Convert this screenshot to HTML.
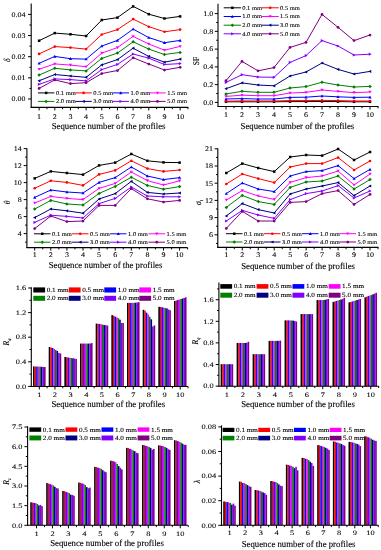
<!DOCTYPE html><html><head><meta charset="utf-8"><style>html,body{margin:0;padding:0;background:#fff;overflow:hidden}svg{display:block}</style></head><body>
<svg width="381" height="550" viewBox="0 0 381 550" font-family="Liberation Serif, serif" fill="#000" style="will-change:transform"><style>text{stroke:#000;stroke-width:0.1px;text-rendering:geometricPrecision}</style>
<rect width="381" height="550" fill="#fff"/>
<line x1="31.20" y1="3.60" x2="31.20" y2="107.90" stroke="#000" stroke-width="1.1"/>
<line x1="30.70" y1="107.40" x2="188.30" y2="107.40" stroke="#000" stroke-width="1.1"/>
<line x1="28.00" y1="99.00" x2="31.20" y2="99.00" stroke="#000" stroke-width="1"/>
<text x="0" y="0" font-size="8.0" text-anchor="end"  transform="translate(25.60,101.32) scale(1.0,0.88)">0.00</text>
<line x1="28.00" y1="77.85" x2="31.20" y2="77.85" stroke="#000" stroke-width="1"/>
<text x="0" y="0" font-size="8.0" text-anchor="end"  transform="translate(25.60,80.17) scale(1.0,0.88)">0.01</text>
<line x1="28.00" y1="56.70" x2="31.20" y2="56.70" stroke="#000" stroke-width="1"/>
<text x="0" y="0" font-size="8.0" text-anchor="end"  transform="translate(25.60,59.02) scale(1.0,0.88)">0.02</text>
<line x1="28.00" y1="35.55" x2="31.20" y2="35.55" stroke="#000" stroke-width="1"/>
<text x="0" y="0" font-size="8.0" text-anchor="end"  transform="translate(25.60,37.87) scale(1.0,0.88)">0.03</text>
<line x1="28.00" y1="14.40" x2="31.20" y2="14.40" stroke="#000" stroke-width="1"/>
<text x="0" y="0" font-size="8.0" text-anchor="end"  transform="translate(25.60,16.72) scale(1.0,0.88)">0.04</text>
<line x1="29.40" y1="88.42" x2="31.20" y2="88.42" stroke="#000" stroke-width="1"/>
<line x1="29.40" y1="67.28" x2="31.20" y2="67.28" stroke="#000" stroke-width="1"/>
<line x1="29.40" y1="46.12" x2="31.20" y2="46.12" stroke="#000" stroke-width="1"/>
<line x1="29.40" y1="24.98" x2="31.20" y2="24.98" stroke="#000" stroke-width="1"/>
<line x1="39.10" y1="107.40" x2="39.10" y2="110.40" stroke="#000" stroke-width="1"/>
<line x1="46.94" y1="107.40" x2="46.94" y2="109.20" stroke="#000" stroke-width="1"/>
<text x="0" y="0" font-size="8.0" text-anchor="middle"  transform="translate(39.10,118.52) scale(1.0,0.88)">1</text>
<line x1="54.77" y1="107.40" x2="54.77" y2="110.40" stroke="#000" stroke-width="1"/>
<line x1="62.61" y1="107.40" x2="62.61" y2="109.20" stroke="#000" stroke-width="1"/>
<text x="0" y="0" font-size="8.0" text-anchor="middle"  transform="translate(54.77,118.52) scale(1.0,0.88)">2</text>
<line x1="70.44" y1="107.40" x2="70.44" y2="110.40" stroke="#000" stroke-width="1"/>
<line x1="78.27" y1="107.40" x2="78.27" y2="109.20" stroke="#000" stroke-width="1"/>
<text x="0" y="0" font-size="8.0" text-anchor="middle"  transform="translate(70.44,118.52) scale(1.0,0.88)">3</text>
<line x1="86.11" y1="107.40" x2="86.11" y2="110.40" stroke="#000" stroke-width="1"/>
<line x1="93.94" y1="107.40" x2="93.94" y2="109.20" stroke="#000" stroke-width="1"/>
<text x="0" y="0" font-size="8.0" text-anchor="middle"  transform="translate(86.11,118.52) scale(1.0,0.88)">4</text>
<line x1="101.78" y1="107.40" x2="101.78" y2="110.40" stroke="#000" stroke-width="1"/>
<line x1="109.61" y1="107.40" x2="109.61" y2="109.20" stroke="#000" stroke-width="1"/>
<text x="0" y="0" font-size="8.0" text-anchor="middle"  transform="translate(101.78,118.52) scale(1.0,0.88)">5</text>
<line x1="117.45" y1="107.40" x2="117.45" y2="110.40" stroke="#000" stroke-width="1"/>
<line x1="125.28" y1="107.40" x2="125.28" y2="109.20" stroke="#000" stroke-width="1"/>
<text x="0" y="0" font-size="8.0" text-anchor="middle"  transform="translate(117.45,118.52) scale(1.0,0.88)">6</text>
<line x1="133.12" y1="107.40" x2="133.12" y2="110.40" stroke="#000" stroke-width="1"/>
<line x1="140.96" y1="107.40" x2="140.96" y2="109.20" stroke="#000" stroke-width="1"/>
<text x="0" y="0" font-size="8.0" text-anchor="middle"  transform="translate(133.12,118.52) scale(1.0,0.88)">7</text>
<line x1="148.79" y1="107.40" x2="148.79" y2="110.40" stroke="#000" stroke-width="1"/>
<line x1="156.62" y1="107.40" x2="156.62" y2="109.20" stroke="#000" stroke-width="1"/>
<text x="0" y="0" font-size="8.0" text-anchor="middle"  transform="translate(148.79,118.52) scale(1.0,0.88)">8</text>
<line x1="164.46" y1="107.40" x2="164.46" y2="110.40" stroke="#000" stroke-width="1"/>
<line x1="172.30" y1="107.40" x2="172.30" y2="109.20" stroke="#000" stroke-width="1"/>
<text x="0" y="0" font-size="8.0" text-anchor="middle"  transform="translate(164.46,118.52) scale(1.0,0.88)">9</text>
<line x1="180.13" y1="107.40" x2="180.13" y2="110.40" stroke="#000" stroke-width="1"/>
<line x1="187.97" y1="107.40" x2="187.97" y2="109.20" stroke="#000" stroke-width="1"/>
<text x="0" y="0" font-size="8.0" text-anchor="middle"  transform="translate(180.13,118.52) scale(1.0,0.88)">10</text>
<text x="0" y="0" font-size="8.75" text-anchor="middle" transform="translate(108.60,128.65) scale(1,1.04)">Sequence number of the profiles</text>
<text x="0" y="0" font-size="9" text-anchor="middle" font-style="italic" transform="translate(10.00,60.30) rotate(-90) scale(0.85,1)">δ</text>
<polyline points="39.10,40.70 54.77,33.10 70.44,34.30 86.11,36.00 101.78,20.00 117.45,17.60 133.12,6.40 148.79,14.20 164.46,18.50 180.13,16.40" fill="none" stroke="#000000" stroke-width="1"/>
<rect x="37.85" y="39.45" width="2.5" height="2.5" fill="#000000"/>
<rect x="53.52" y="31.85" width="2.5" height="2.5" fill="#000000"/>
<rect x="69.19" y="33.05" width="2.5" height="2.5" fill="#000000"/>
<rect x="84.86" y="34.75" width="2.5" height="2.5" fill="#000000"/>
<rect x="100.53" y="18.75" width="2.5" height="2.5" fill="#000000"/>
<rect x="116.20" y="16.35" width="2.5" height="2.5" fill="#000000"/>
<rect x="131.87" y="5.15" width="2.5" height="2.5" fill="#000000"/>
<rect x="147.54" y="12.95" width="2.5" height="2.5" fill="#000000"/>
<rect x="163.21" y="17.25" width="2.5" height="2.5" fill="#000000"/>
<rect x="178.88" y="15.15" width="2.5" height="2.5" fill="#000000"/>
<polyline points="39.10,53.90 54.77,46.60 70.44,47.60 86.11,49.10 101.78,34.50 117.45,29.60 133.12,19.10 148.79,26.70 164.46,31.80 180.13,29.60" fill="none" stroke="#ff0000" stroke-width="1"/>
<circle cx="39.10" cy="53.90" r="1.3125" fill="#ff0000"/>
<circle cx="54.77" cy="46.60" r="1.3125" fill="#ff0000"/>
<circle cx="70.44" cy="47.60" r="1.3125" fill="#ff0000"/>
<circle cx="86.11" cy="49.10" r="1.3125" fill="#ff0000"/>
<circle cx="101.78" cy="34.50" r="1.3125" fill="#ff0000"/>
<circle cx="117.45" cy="29.60" r="1.3125" fill="#ff0000"/>
<circle cx="133.12" cy="19.10" r="1.3125" fill="#ff0000"/>
<circle cx="148.79" cy="26.70" r="1.3125" fill="#ff0000"/>
<circle cx="164.46" cy="31.80" r="1.3125" fill="#ff0000"/>
<circle cx="180.13" cy="29.60" r="1.3125" fill="#ff0000"/>
<polyline points="39.10,63.30 54.77,56.40 70.44,58.70 86.11,59.10 101.78,46.00 117.45,40.40 133.12,29.10 148.79,37.60 164.46,42.70 180.13,40.40" fill="none" stroke="#0000ff" stroke-width="1"/>
<path d="M39.10,61.67L40.73,64.55L37.48,64.55Z" fill="#0000ff"/>
<path d="M54.77,54.77L56.40,57.65L53.15,57.65Z" fill="#0000ff"/>
<path d="M70.44,57.08L72.06,59.95L68.81,59.95Z" fill="#0000ff"/>
<path d="M86.11,57.48L87.73,60.35L84.48,60.35Z" fill="#0000ff"/>
<path d="M101.78,44.38L103.41,47.25L100.16,47.25Z" fill="#0000ff"/>
<path d="M117.45,38.77L119.07,41.65L115.82,41.65Z" fill="#0000ff"/>
<path d="M133.12,27.48L134.75,30.35L131.50,30.35Z" fill="#0000ff"/>
<path d="M148.79,35.98L150.41,38.85L147.16,38.85Z" fill="#0000ff"/>
<path d="M164.46,41.08L166.09,43.95L162.84,43.95Z" fill="#0000ff"/>
<path d="M180.13,38.77L181.75,41.65L178.50,41.65Z" fill="#0000ff"/>
<polyline points="39.10,69.20 54.77,63.90 70.44,65.10 86.11,66.70 101.78,53.10 117.45,47.60 133.12,36.40 148.79,44.00 164.46,50.20 180.13,46.40" fill="none" stroke="#ff00ff" stroke-width="1"/>
<path d="M39.10,70.83L40.73,67.95L37.48,67.95Z" fill="#ff00ff"/>
<path d="M54.77,65.53L56.40,62.65L53.15,62.65Z" fill="#ff00ff"/>
<path d="M70.44,66.72L72.06,63.85L68.81,63.85Z" fill="#ff00ff"/>
<path d="M86.11,68.33L87.73,65.45L84.48,65.45Z" fill="#ff00ff"/>
<path d="M101.78,54.73L103.41,51.85L100.16,51.85Z" fill="#ff00ff"/>
<path d="M117.45,49.23L119.07,46.35L115.82,46.35Z" fill="#ff00ff"/>
<path d="M133.12,38.02L134.75,35.15L131.50,35.15Z" fill="#ff00ff"/>
<path d="M148.79,45.62L150.41,42.75L147.16,42.75Z" fill="#ff00ff"/>
<path d="M164.46,51.83L166.09,48.95L162.84,48.95Z" fill="#ff00ff"/>
<path d="M180.13,48.02L181.75,45.15L178.50,45.15Z" fill="#ff00ff"/>
<polyline points="39.10,75.00 54.77,68.30 70.44,69.90 86.11,70.90 101.78,58.40 117.45,53.10 133.12,41.80 148.79,49.10 164.46,54.50 180.13,52.40" fill="none" stroke="#008000" stroke-width="1"/>
<path d="M39.10,73.25L40.85,75.00L39.10,76.75L37.35,75.00Z" fill="#008000"/>
<path d="M54.77,66.55L56.52,68.30L54.77,70.05L53.02,68.30Z" fill="#008000"/>
<path d="M70.44,68.15L72.19,69.90L70.44,71.65L68.69,69.90Z" fill="#008000"/>
<path d="M86.11,69.15L87.86,70.90L86.11,72.65L84.36,70.90Z" fill="#008000"/>
<path d="M101.78,56.65L103.53,58.40L101.78,60.15L100.03,58.40Z" fill="#008000"/>
<path d="M117.45,51.35L119.20,53.10L117.45,54.85L115.70,53.10Z" fill="#008000"/>
<path d="M133.12,40.05L134.87,41.80L133.12,43.55L131.37,41.80Z" fill="#008000"/>
<path d="M148.79,47.35L150.54,49.10L148.79,50.85L147.04,49.10Z" fill="#008000"/>
<path d="M164.46,52.75L166.21,54.50L164.46,56.25L162.71,54.50Z" fill="#008000"/>
<path d="M180.13,50.65L181.88,52.40L180.13,54.15L178.38,52.40Z" fill="#008000"/>
<polyline points="39.10,80.80 54.77,74.50 70.44,76.00 86.11,77.30 101.78,64.90 117.45,59.60 133.12,48.20 148.79,56.40 164.46,62.20 180.13,59.10" fill="none" stroke="#000080" stroke-width="1"/>
<path d="M37.48,80.80L40.35,79.17L40.35,82.42Z" fill="#000080"/>
<path d="M53.15,74.50L56.02,72.88L56.02,76.12Z" fill="#000080"/>
<path d="M68.81,76.00L71.69,74.38L71.69,77.62Z" fill="#000080"/>
<path d="M84.48,77.30L87.36,75.67L87.36,78.92Z" fill="#000080"/>
<path d="M100.16,64.90L103.03,63.28L103.03,66.53Z" fill="#000080"/>
<path d="M115.82,59.60L118.70,57.98L118.70,61.23Z" fill="#000080"/>
<path d="M131.50,48.20L134.37,46.58L134.37,49.83Z" fill="#000080"/>
<path d="M147.16,56.40L150.04,54.77L150.04,58.02Z" fill="#000080"/>
<path d="M162.84,62.20L165.71,60.58L165.71,63.83Z" fill="#000080"/>
<path d="M178.50,59.10L181.38,57.48L181.38,60.73Z" fill="#000080"/>
<polyline points="39.10,84.30 54.77,78.90 70.44,79.60 86.11,80.90 101.78,69.60 117.45,64.40 133.12,54.00 148.79,58.20 164.46,64.50 180.13,63.60" fill="none" stroke="#8000ff" stroke-width="1"/>
<path d="M40.73,84.30L37.85,82.67L37.85,85.92Z" fill="#8000ff"/>
<path d="M56.40,78.90L53.52,77.28L53.52,80.53Z" fill="#8000ff"/>
<path d="M72.06,79.60L69.19,77.97L69.19,81.22Z" fill="#8000ff"/>
<path d="M87.73,80.90L84.86,79.28L84.86,82.53Z" fill="#8000ff"/>
<path d="M103.41,69.60L100.53,67.97L100.53,71.22Z" fill="#8000ff"/>
<path d="M119.07,64.40L116.20,62.78L116.20,66.03Z" fill="#8000ff"/>
<path d="M134.75,54.00L131.87,52.38L131.87,55.62Z" fill="#8000ff"/>
<path d="M150.41,58.20L147.54,56.58L147.54,59.83Z" fill="#8000ff"/>
<path d="M166.09,64.50L163.21,62.88L163.21,66.12Z" fill="#8000ff"/>
<path d="M181.75,63.60L178.88,61.98L178.88,65.22Z" fill="#8000ff"/>
<polyline points="39.10,88.40 54.77,79.90 70.44,83.60 86.11,82.70 101.78,73.50 117.45,70.50 133.12,57.80 148.79,64.00 164.46,70.00 180.13,67.30" fill="none" stroke="#800080" stroke-width="1"/>
<circle cx="39.10" cy="88.40" r="1.375" fill="#800080"/>
<circle cx="54.77" cy="79.90" r="1.375" fill="#800080"/>
<circle cx="70.44" cy="83.60" r="1.375" fill="#800080"/>
<circle cx="86.11" cy="82.70" r="1.375" fill="#800080"/>
<circle cx="101.78" cy="73.50" r="1.375" fill="#800080"/>
<circle cx="117.45" cy="70.50" r="1.375" fill="#800080"/>
<circle cx="133.12" cy="57.80" r="1.375" fill="#800080"/>
<circle cx="148.79" cy="64.00" r="1.375" fill="#800080"/>
<circle cx="164.46" cy="70.00" r="1.375" fill="#800080"/>
<circle cx="180.13" cy="67.30" r="1.375" fill="#800080"/>
<line x1="37.90" y1="92.90" x2="54.40" y2="92.90" stroke="#000000" stroke-width="1"/>
<rect x="44.90" y="91.65" width="2.5" height="2.5" fill="#000000"/>
<text x="0" y="0" font-size="6.5" text-anchor="start"  transform="translate(55.90,94.83) scale(1.0,0.9)">0.1 mm</text>
<line x1="75.30" y1="92.90" x2="91.80" y2="92.90" stroke="#ff0000" stroke-width="1"/>
<circle cx="83.55" cy="92.90" r="1.3125" fill="#ff0000"/>
<text x="0" y="0" font-size="6.5" text-anchor="start"  transform="translate(93.30,94.83) scale(1.0,0.9)">0.5 mm</text>
<line x1="112.50" y1="92.90" x2="129.00" y2="92.90" stroke="#0000ff" stroke-width="1"/>
<path d="M120.75,91.28L122.38,94.15L119.12,94.15Z" fill="#0000ff"/>
<text x="0" y="0" font-size="6.5" text-anchor="start"  transform="translate(130.50,94.83) scale(1.0,0.9)">1.0 mm</text>
<line x1="149.20" y1="92.90" x2="165.70" y2="92.90" stroke="#ff00ff" stroke-width="1"/>
<path d="M157.45,94.53L159.07,91.65L155.82,91.65Z" fill="#ff00ff"/>
<text x="0" y="0" font-size="6.5" text-anchor="start"  transform="translate(167.20,94.83) scale(1.0,0.9)">1.5 mm</text>
<line x1="37.90" y1="101.40" x2="54.40" y2="101.40" stroke="#008000" stroke-width="1"/>
<path d="M46.15,99.65L47.90,101.40L46.15,103.15L44.40,101.40Z" fill="#008000"/>
<text x="0" y="0" font-size="6.5" text-anchor="start"  transform="translate(55.90,103.33) scale(1.0,0.9)">2.0 mm</text>
<line x1="75.30" y1="101.40" x2="91.80" y2="101.40" stroke="#000080" stroke-width="1"/>
<path d="M81.92,101.40L84.80,99.78L84.80,103.03Z" fill="#000080"/>
<text x="0" y="0" font-size="6.5" text-anchor="start"  transform="translate(93.30,103.33) scale(1.0,0.9)">3.0 mm</text>
<line x1="112.50" y1="101.40" x2="129.00" y2="101.40" stroke="#8000ff" stroke-width="1"/>
<path d="M122.38,101.40L119.50,99.78L119.50,103.03Z" fill="#8000ff"/>
<text x="0" y="0" font-size="6.5" text-anchor="start"  transform="translate(130.50,103.33) scale(1.0,0.9)">4.0 mm</text>
<line x1="149.20" y1="101.40" x2="165.70" y2="101.40" stroke="#800080" stroke-width="1"/>
<circle cx="157.45" cy="101.40" r="1.375" fill="#800080"/>
<text x="0" y="0" font-size="6.5" text-anchor="start"  transform="translate(167.20,103.33) scale(1.0,0.9)">5.0 mm</text>
<line x1="218.00" y1="3.80" x2="218.00" y2="107.00" stroke="#000" stroke-width="1.1"/>
<line x1="217.50" y1="106.50" x2="378.50" y2="106.50" stroke="#000" stroke-width="1.1"/>
<line x1="214.80" y1="102.40" x2="218.00" y2="102.40" stroke="#000" stroke-width="1"/>
<text x="0" y="0" font-size="8.0" text-anchor="end"  transform="translate(213.20,104.72) scale(1.0,0.88)">0.0</text>
<line x1="214.80" y1="84.64" x2="218.00" y2="84.64" stroke="#000" stroke-width="1"/>
<text x="0" y="0" font-size="8.0" text-anchor="end"  transform="translate(213.20,86.96) scale(1.0,0.88)">0.2</text>
<line x1="214.80" y1="66.88" x2="218.00" y2="66.88" stroke="#000" stroke-width="1"/>
<text x="0" y="0" font-size="8.0" text-anchor="end"  transform="translate(213.20,69.20) scale(1.0,0.88)">0.4</text>
<line x1="214.80" y1="49.12" x2="218.00" y2="49.12" stroke="#000" stroke-width="1"/>
<text x="0" y="0" font-size="8.0" text-anchor="end"  transform="translate(213.20,51.44) scale(1.0,0.88)">0.6</text>
<line x1="214.80" y1="31.36" x2="218.00" y2="31.36" stroke="#000" stroke-width="1"/>
<text x="0" y="0" font-size="8.0" text-anchor="end"  transform="translate(213.20,33.68) scale(1.0,0.88)">0.8</text>
<line x1="214.80" y1="13.60" x2="218.00" y2="13.60" stroke="#000" stroke-width="1"/>
<text x="0" y="0" font-size="8.0" text-anchor="end"  transform="translate(213.20,15.92) scale(1.0,0.88)">1.0</text>
<line x1="216.20" y1="93.52" x2="218.00" y2="93.52" stroke="#000" stroke-width="1"/>
<line x1="216.20" y1="75.76" x2="218.00" y2="75.76" stroke="#000" stroke-width="1"/>
<line x1="216.20" y1="58.00" x2="218.00" y2="58.00" stroke="#000" stroke-width="1"/>
<line x1="216.20" y1="40.24" x2="218.00" y2="40.24" stroke="#000" stroke-width="1"/>
<line x1="216.20" y1="22.48" x2="218.00" y2="22.48" stroke="#000" stroke-width="1"/>
<line x1="226.00" y1="106.50" x2="226.00" y2="109.50" stroke="#000" stroke-width="1"/>
<line x1="234.00" y1="106.50" x2="234.00" y2="108.30" stroke="#000" stroke-width="1"/>
<text x="0" y="0" font-size="8.0" text-anchor="middle"  transform="translate(226.00,116.92) scale(1.0,0.88)">1</text>
<line x1="242.00" y1="106.50" x2="242.00" y2="109.50" stroke="#000" stroke-width="1"/>
<line x1="250.00" y1="106.50" x2="250.00" y2="108.30" stroke="#000" stroke-width="1"/>
<text x="0" y="0" font-size="8.0" text-anchor="middle"  transform="translate(242.00,116.92) scale(1.0,0.88)">2</text>
<line x1="258.00" y1="106.50" x2="258.00" y2="109.50" stroke="#000" stroke-width="1"/>
<line x1="266.00" y1="106.50" x2="266.00" y2="108.30" stroke="#000" stroke-width="1"/>
<text x="0" y="0" font-size="8.0" text-anchor="middle"  transform="translate(258.00,116.92) scale(1.0,0.88)">3</text>
<line x1="274.00" y1="106.50" x2="274.00" y2="109.50" stroke="#000" stroke-width="1"/>
<line x1="282.00" y1="106.50" x2="282.00" y2="108.30" stroke="#000" stroke-width="1"/>
<text x="0" y="0" font-size="8.0" text-anchor="middle"  transform="translate(274.00,116.92) scale(1.0,0.88)">4</text>
<line x1="290.00" y1="106.50" x2="290.00" y2="109.50" stroke="#000" stroke-width="1"/>
<line x1="298.00" y1="106.50" x2="298.00" y2="108.30" stroke="#000" stroke-width="1"/>
<text x="0" y="0" font-size="8.0" text-anchor="middle"  transform="translate(290.00,116.92) scale(1.0,0.88)">5</text>
<line x1="306.00" y1="106.50" x2="306.00" y2="109.50" stroke="#000" stroke-width="1"/>
<line x1="314.00" y1="106.50" x2="314.00" y2="108.30" stroke="#000" stroke-width="1"/>
<text x="0" y="0" font-size="8.0" text-anchor="middle"  transform="translate(306.00,116.92) scale(1.0,0.88)">6</text>
<line x1="322.00" y1="106.50" x2="322.00" y2="109.50" stroke="#000" stroke-width="1"/>
<line x1="330.00" y1="106.50" x2="330.00" y2="108.30" stroke="#000" stroke-width="1"/>
<text x="0" y="0" font-size="8.0" text-anchor="middle"  transform="translate(322.00,116.92) scale(1.0,0.88)">7</text>
<line x1="338.00" y1="106.50" x2="338.00" y2="109.50" stroke="#000" stroke-width="1"/>
<line x1="346.00" y1="106.50" x2="346.00" y2="108.30" stroke="#000" stroke-width="1"/>
<text x="0" y="0" font-size="8.0" text-anchor="middle"  transform="translate(338.00,116.92) scale(1.0,0.88)">8</text>
<line x1="354.00" y1="106.50" x2="354.00" y2="109.50" stroke="#000" stroke-width="1"/>
<line x1="362.00" y1="106.50" x2="362.00" y2="108.30" stroke="#000" stroke-width="1"/>
<text x="0" y="0" font-size="8.0" text-anchor="middle"  transform="translate(354.00,116.92) scale(1.0,0.88)">9</text>
<line x1="370.00" y1="106.50" x2="370.00" y2="109.50" stroke="#000" stroke-width="1"/>
<line x1="378.00" y1="106.50" x2="378.00" y2="108.30" stroke="#000" stroke-width="1"/>
<text x="0" y="0" font-size="8.0" text-anchor="middle"  transform="translate(370.00,116.92) scale(1.0,0.88)">10</text>
<text x="0" y="0" font-size="8.75" text-anchor="middle" transform="translate(297.40,129.05) scale(1,1.04)">Sequence number of the profiles</text>
<text x="0" y="0" font-size="9" text-anchor="middle"  transform="translate(199.00,60.90) rotate(-90) scale(0.85,1)">SF</text>
<polyline points="226.00,101.80 242.00,101.80 258.00,101.80 274.00,101.80 290.00,101.60 306.00,101.60 322.00,101.50 338.00,101.60 354.00,101.80 370.00,101.80" fill="none" stroke="#000000" stroke-width="1"/>
<rect x="224.75" y="100.55" width="2.5" height="2.5" fill="#000000"/>
<rect x="240.75" y="100.55" width="2.5" height="2.5" fill="#000000"/>
<rect x="256.75" y="100.55" width="2.5" height="2.5" fill="#000000"/>
<rect x="272.75" y="100.55" width="2.5" height="2.5" fill="#000000"/>
<rect x="288.75" y="100.35" width="2.5" height="2.5" fill="#000000"/>
<rect x="304.75" y="100.35" width="2.5" height="2.5" fill="#000000"/>
<rect x="320.75" y="100.25" width="2.5" height="2.5" fill="#000000"/>
<rect x="336.75" y="100.35" width="2.5" height="2.5" fill="#000000"/>
<rect x="352.75" y="100.55" width="2.5" height="2.5" fill="#000000"/>
<rect x="368.75" y="100.55" width="2.5" height="2.5" fill="#000000"/>
<polyline points="226.00,101.20 242.00,100.90 258.00,101.00 274.00,101.00 290.00,100.60 306.00,100.60 322.00,100.40 338.00,100.60 354.00,101.00 370.00,101.00" fill="none" stroke="#ff0000" stroke-width="1"/>
<circle cx="226.00" cy="101.20" r="1.3125" fill="#ff0000"/>
<circle cx="242.00" cy="100.90" r="1.3125" fill="#ff0000"/>
<circle cx="258.00" cy="101.00" r="1.3125" fill="#ff0000"/>
<circle cx="274.00" cy="101.00" r="1.3125" fill="#ff0000"/>
<circle cx="290.00" cy="100.60" r="1.3125" fill="#ff0000"/>
<circle cx="306.00" cy="100.60" r="1.3125" fill="#ff0000"/>
<circle cx="322.00" cy="100.40" r="1.3125" fill="#ff0000"/>
<circle cx="338.00" cy="100.60" r="1.3125" fill="#ff0000"/>
<circle cx="354.00" cy="101.00" r="1.3125" fill="#ff0000"/>
<circle cx="370.00" cy="101.00" r="1.3125" fill="#ff0000"/>
<polyline points="226.00,99.00 242.00,98.60 258.00,99.00 274.00,99.00 290.00,97.40 306.00,97.20 322.00,96.00 338.00,96.80 354.00,97.40 370.00,97.20" fill="none" stroke="#0000ff" stroke-width="1"/>
<path d="M226.00,97.38L227.62,100.25L224.38,100.25Z" fill="#0000ff"/>
<path d="M242.00,96.97L243.62,99.85L240.38,99.85Z" fill="#0000ff"/>
<path d="M258.00,97.38L259.62,100.25L256.38,100.25Z" fill="#0000ff"/>
<path d="M274.00,97.38L275.62,100.25L272.38,100.25Z" fill="#0000ff"/>
<path d="M290.00,95.78L291.62,98.65L288.38,98.65Z" fill="#0000ff"/>
<path d="M306.00,95.58L307.62,98.45L304.38,98.45Z" fill="#0000ff"/>
<path d="M322.00,94.38L323.62,97.25L320.38,97.25Z" fill="#0000ff"/>
<path d="M338.00,95.17L339.62,98.05L336.38,98.05Z" fill="#0000ff"/>
<path d="M354.00,95.78L355.62,98.65L352.38,98.65Z" fill="#0000ff"/>
<path d="M370.00,95.58L371.62,98.45L368.38,98.45Z" fill="#0000ff"/>
<polyline points="226.00,96.40 242.00,95.20 258.00,95.70 274.00,95.70 290.00,93.00 306.00,92.40 322.00,90.00 338.00,91.40 354.00,92.60 370.00,92.00" fill="none" stroke="#ff00ff" stroke-width="1"/>
<path d="M226.00,98.03L227.62,95.15L224.38,95.15Z" fill="#ff00ff"/>
<path d="M242.00,96.83L243.62,93.95L240.38,93.95Z" fill="#ff00ff"/>
<path d="M258.00,97.33L259.62,94.45L256.38,94.45Z" fill="#ff00ff"/>
<path d="M274.00,97.33L275.62,94.45L272.38,94.45Z" fill="#ff00ff"/>
<path d="M290.00,94.62L291.62,91.75L288.38,91.75Z" fill="#ff00ff"/>
<path d="M306.00,94.03L307.62,91.15L304.38,91.15Z" fill="#ff00ff"/>
<path d="M322.00,91.62L323.62,88.75L320.38,88.75Z" fill="#ff00ff"/>
<path d="M338.00,93.03L339.62,90.15L336.38,90.15Z" fill="#ff00ff"/>
<path d="M354.00,94.22L355.62,91.35L352.38,91.35Z" fill="#ff00ff"/>
<path d="M370.00,93.62L371.62,90.75L368.38,90.75Z" fill="#ff00ff"/>
<polyline points="226.00,94.00 242.00,91.30 258.00,92.30 274.00,92.30 290.00,88.00 306.00,86.60 322.00,82.20 338.00,85.00 354.00,87.00 370.00,86.40" fill="none" stroke="#008000" stroke-width="1"/>
<path d="M226.00,92.25L227.75,94.00L226.00,95.75L224.25,94.00Z" fill="#008000"/>
<path d="M242.00,89.55L243.75,91.30L242.00,93.05L240.25,91.30Z" fill="#008000"/>
<path d="M258.00,90.55L259.75,92.30L258.00,94.05L256.25,92.30Z" fill="#008000"/>
<path d="M274.00,90.55L275.75,92.30L274.00,94.05L272.25,92.30Z" fill="#008000"/>
<path d="M290.00,86.25L291.75,88.00L290.00,89.75L288.25,88.00Z" fill="#008000"/>
<path d="M306.00,84.85L307.75,86.60L306.00,88.35L304.25,86.60Z" fill="#008000"/>
<path d="M322.00,80.45L323.75,82.20L322.00,83.95L320.25,82.20Z" fill="#008000"/>
<path d="M338.00,83.25L339.75,85.00L338.00,86.75L336.25,85.00Z" fill="#008000"/>
<path d="M354.00,85.25L355.75,87.00L354.00,88.75L352.25,87.00Z" fill="#008000"/>
<path d="M370.00,84.65L371.75,86.40L370.00,88.15L368.25,86.40Z" fill="#008000"/>
<polyline points="226.00,88.70 242.00,82.90 258.00,85.00 274.00,85.80 290.00,76.00 306.00,72.00 322.00,63.00 338.00,69.40 354.00,74.00 370.00,71.40" fill="none" stroke="#000080" stroke-width="1"/>
<path d="M224.38,88.70L227.25,87.08L227.25,90.33Z" fill="#000080"/>
<path d="M240.38,82.90L243.25,81.28L243.25,84.53Z" fill="#000080"/>
<path d="M256.38,85.00L259.25,83.38L259.25,86.62Z" fill="#000080"/>
<path d="M272.38,85.80L275.25,84.17L275.25,87.42Z" fill="#000080"/>
<path d="M288.38,76.00L291.25,74.38L291.25,77.62Z" fill="#000080"/>
<path d="M304.38,72.00L307.25,70.38L307.25,73.62Z" fill="#000080"/>
<path d="M320.38,63.00L323.25,61.38L323.25,64.62Z" fill="#000080"/>
<path d="M336.38,69.40L339.25,67.78L339.25,71.03Z" fill="#000080"/>
<path d="M352.38,74.00L355.25,72.38L355.25,75.62Z" fill="#000080"/>
<path d="M368.38,71.40L371.25,69.78L371.25,73.03Z" fill="#000080"/>
<polyline points="226.00,82.40 242.00,74.70 258.00,77.00 274.00,77.30 290.00,62.40 306.00,55.60 322.00,40.60 338.00,46.00 354.00,55.00 370.00,54.20" fill="none" stroke="#8000ff" stroke-width="1"/>
<path d="M227.62,82.40L224.75,80.78L224.75,84.03Z" fill="#8000ff"/>
<path d="M243.62,74.70L240.75,73.08L240.75,76.33Z" fill="#8000ff"/>
<path d="M259.62,77.00L256.75,75.38L256.75,78.62Z" fill="#8000ff"/>
<path d="M275.62,77.30L272.75,75.67L272.75,78.92Z" fill="#8000ff"/>
<path d="M291.62,62.40L288.75,60.77L288.75,64.03Z" fill="#8000ff"/>
<path d="M307.62,55.60L304.75,53.98L304.75,57.23Z" fill="#8000ff"/>
<path d="M323.62,40.60L320.75,38.98L320.75,42.23Z" fill="#8000ff"/>
<path d="M339.62,46.00L336.75,44.38L336.75,47.62Z" fill="#8000ff"/>
<path d="M355.62,55.00L352.75,53.38L352.75,56.62Z" fill="#8000ff"/>
<path d="M371.62,54.20L368.75,52.58L368.75,55.83Z" fill="#8000ff"/>
<polyline points="226.00,80.70 242.00,61.40 258.00,70.80 274.00,67.60 290.00,47.40 306.00,42.40 322.00,14.40 338.00,27.30 354.00,40.60 370.00,35.00" fill="none" stroke="#800080" stroke-width="1"/>
<circle cx="226.00" cy="80.70" r="1.375" fill="#800080"/>
<circle cx="242.00" cy="61.40" r="1.375" fill="#800080"/>
<circle cx="258.00" cy="70.80" r="1.375" fill="#800080"/>
<circle cx="274.00" cy="67.60" r="1.375" fill="#800080"/>
<circle cx="290.00" cy="47.40" r="1.375" fill="#800080"/>
<circle cx="306.00" cy="42.40" r="1.375" fill="#800080"/>
<circle cx="322.00" cy="14.40" r="1.375" fill="#800080"/>
<circle cx="338.00" cy="27.30" r="1.375" fill="#800080"/>
<circle cx="354.00" cy="40.60" r="1.375" fill="#800080"/>
<circle cx="370.00" cy="35.00" r="1.375" fill="#800080"/>
<line x1="223.70" y1="7.80" x2="241.00" y2="7.80" stroke="#000000" stroke-width="1"/>
<rect x="231.10" y="6.55" width="2.5" height="2.5" fill="#000000"/>
<text x="0" y="0" font-size="6.5" text-anchor="start"  transform="translate(242.20,9.73) scale(1.0,0.9)">0.1 mm</text>
<line x1="261.50" y1="7.80" x2="278.80" y2="7.80" stroke="#ff0000" stroke-width="1"/>
<circle cx="270.15" cy="7.80" r="1.3125" fill="#ff0000"/>
<text x="0" y="0" font-size="6.5" text-anchor="start"  transform="translate(280.00,9.73) scale(1.0,0.9)">0.5 mm</text>
<line x1="223.70" y1="16.50" x2="241.00" y2="16.50" stroke="#0000ff" stroke-width="1"/>
<path d="M232.35,14.88L233.97,17.75L230.72,17.75Z" fill="#0000ff"/>
<text x="0" y="0" font-size="6.5" text-anchor="start"  transform="translate(242.20,18.43) scale(1.0,0.9)">1.0 mm</text>
<line x1="261.50" y1="16.50" x2="278.80" y2="16.50" stroke="#ff00ff" stroke-width="1"/>
<path d="M270.15,18.12L271.77,15.25L268.52,15.25Z" fill="#ff00ff"/>
<text x="0" y="0" font-size="6.5" text-anchor="start"  transform="translate(280.00,18.43) scale(1.0,0.9)">1.5 mm</text>
<line x1="223.70" y1="25.20" x2="241.00" y2="25.20" stroke="#008000" stroke-width="1"/>
<path d="M232.35,23.45L234.10,25.20L232.35,26.95L230.60,25.20Z" fill="#008000"/>
<text x="0" y="0" font-size="6.5" text-anchor="start"  transform="translate(242.20,27.13) scale(1.0,0.9)">2.0 mm</text>
<line x1="261.50" y1="25.20" x2="278.80" y2="25.20" stroke="#000080" stroke-width="1"/>
<path d="M268.52,25.20L271.40,23.57L271.40,26.82Z" fill="#000080"/>
<text x="0" y="0" font-size="6.5" text-anchor="start"  transform="translate(280.00,27.13) scale(1.0,0.9)">3.0 mm</text>
<line x1="223.70" y1="33.80" x2="241.00" y2="33.80" stroke="#8000ff" stroke-width="1"/>
<path d="M233.97,33.80L231.10,32.17L231.10,35.42Z" fill="#8000ff"/>
<text x="0" y="0" font-size="6.5" text-anchor="start"  transform="translate(242.20,35.73) scale(1.0,0.9)">4.0 mm</text>
<line x1="261.50" y1="33.80" x2="278.80" y2="33.80" stroke="#800080" stroke-width="1"/>
<circle cx="270.15" cy="33.80" r="1.375" fill="#800080"/>
<text x="0" y="0" font-size="6.5" text-anchor="start"  transform="translate(280.00,35.73) scale(1.0,0.9)">5.0 mm</text>
<line x1="26.90" y1="148.20" x2="26.90" y2="248.10" stroke="#000" stroke-width="1.1"/>
<line x1="26.40" y1="247.60" x2="187.60" y2="247.60" stroke="#000" stroke-width="1.1"/>
<line x1="23.70" y1="233.60" x2="26.90" y2="233.60" stroke="#000" stroke-width="1"/>
<text x="0" y="0" font-size="8.0" text-anchor="end"  transform="translate(21.70,235.92) scale(1.0,0.88)">4</text>
<line x1="23.70" y1="216.60" x2="26.90" y2="216.60" stroke="#000" stroke-width="1"/>
<text x="0" y="0" font-size="8.0" text-anchor="end"  transform="translate(21.70,218.92) scale(1.0,0.88)">6</text>
<line x1="23.70" y1="199.60" x2="26.90" y2="199.60" stroke="#000" stroke-width="1"/>
<text x="0" y="0" font-size="8.0" text-anchor="end"  transform="translate(21.70,201.92) scale(1.0,0.88)">8</text>
<line x1="23.70" y1="182.60" x2="26.90" y2="182.60" stroke="#000" stroke-width="1"/>
<text x="0" y="0" font-size="8.0" text-anchor="end"  transform="translate(21.70,184.92) scale(1.0,0.88)">10</text>
<line x1="23.70" y1="165.60" x2="26.90" y2="165.60" stroke="#000" stroke-width="1"/>
<text x="0" y="0" font-size="8.0" text-anchor="end"  transform="translate(21.70,167.92) scale(1.0,0.88)">12</text>
<line x1="23.70" y1="148.60" x2="26.90" y2="148.60" stroke="#000" stroke-width="1"/>
<text x="0" y="0" font-size="8.0" text-anchor="end"  transform="translate(21.70,150.92) scale(1.0,0.88)">14</text>
<line x1="25.10" y1="242.10" x2="26.90" y2="242.10" stroke="#000" stroke-width="1"/>
<line x1="25.10" y1="225.10" x2="26.90" y2="225.10" stroke="#000" stroke-width="1"/>
<line x1="25.10" y1="208.10" x2="26.90" y2="208.10" stroke="#000" stroke-width="1"/>
<line x1="25.10" y1="191.10" x2="26.90" y2="191.10" stroke="#000" stroke-width="1"/>
<line x1="25.10" y1="174.10" x2="26.90" y2="174.10" stroke="#000" stroke-width="1"/>
<line x1="25.10" y1="157.10" x2="26.90" y2="157.10" stroke="#000" stroke-width="1"/>
<line x1="34.70" y1="247.60" x2="34.70" y2="250.60" stroke="#000" stroke-width="1"/>
<line x1="42.75" y1="247.60" x2="42.75" y2="249.40" stroke="#000" stroke-width="1"/>
<text x="0" y="0" font-size="8.0" text-anchor="middle"  transform="translate(34.70,256.62) scale(1.0,0.88)">1</text>
<line x1="50.80" y1="247.60" x2="50.80" y2="250.60" stroke="#000" stroke-width="1"/>
<line x1="58.85" y1="247.60" x2="58.85" y2="249.40" stroke="#000" stroke-width="1"/>
<text x="0" y="0" font-size="8.0" text-anchor="middle"  transform="translate(50.80,256.62) scale(1.0,0.88)">2</text>
<line x1="66.90" y1="247.60" x2="66.90" y2="250.60" stroke="#000" stroke-width="1"/>
<line x1="74.95" y1="247.60" x2="74.95" y2="249.40" stroke="#000" stroke-width="1"/>
<text x="0" y="0" font-size="8.0" text-anchor="middle"  transform="translate(66.90,256.62) scale(1.0,0.88)">3</text>
<line x1="83.00" y1="247.60" x2="83.00" y2="250.60" stroke="#000" stroke-width="1"/>
<line x1="91.05" y1="247.60" x2="91.05" y2="249.40" stroke="#000" stroke-width="1"/>
<text x="0" y="0" font-size="8.0" text-anchor="middle"  transform="translate(83.00,256.62) scale(1.0,0.88)">4</text>
<line x1="99.10" y1="247.60" x2="99.10" y2="250.60" stroke="#000" stroke-width="1"/>
<line x1="107.15" y1="247.60" x2="107.15" y2="249.40" stroke="#000" stroke-width="1"/>
<text x="0" y="0" font-size="8.0" text-anchor="middle"  transform="translate(99.10,256.62) scale(1.0,0.88)">5</text>
<line x1="115.20" y1="247.60" x2="115.20" y2="250.60" stroke="#000" stroke-width="1"/>
<line x1="123.25" y1="247.60" x2="123.25" y2="249.40" stroke="#000" stroke-width="1"/>
<text x="0" y="0" font-size="8.0" text-anchor="middle"  transform="translate(115.20,256.62) scale(1.0,0.88)">6</text>
<line x1="131.30" y1="247.60" x2="131.30" y2="250.60" stroke="#000" stroke-width="1"/>
<line x1="139.35" y1="247.60" x2="139.35" y2="249.40" stroke="#000" stroke-width="1"/>
<text x="0" y="0" font-size="8.0" text-anchor="middle"  transform="translate(131.30,256.62) scale(1.0,0.88)">7</text>
<line x1="147.40" y1="247.60" x2="147.40" y2="250.60" stroke="#000" stroke-width="1"/>
<line x1="155.45" y1="247.60" x2="155.45" y2="249.40" stroke="#000" stroke-width="1"/>
<text x="0" y="0" font-size="8.0" text-anchor="middle"  transform="translate(147.40,256.62) scale(1.0,0.88)">8</text>
<line x1="163.50" y1="247.60" x2="163.50" y2="250.60" stroke="#000" stroke-width="1"/>
<line x1="171.55" y1="247.60" x2="171.55" y2="249.40" stroke="#000" stroke-width="1"/>
<text x="0" y="0" font-size="8.0" text-anchor="middle"  transform="translate(163.50,256.62) scale(1.0,0.88)">9</text>
<line x1="179.60" y1="247.60" x2="179.60" y2="250.60" stroke="#000" stroke-width="1"/>
<line x1="187.65" y1="247.60" x2="187.65" y2="249.40" stroke="#000" stroke-width="1"/>
<text x="0" y="0" font-size="8.0" text-anchor="middle"  transform="translate(179.60,256.62) scale(1.0,0.88)">10</text>
<text x="0" y="0" font-size="8.75" text-anchor="middle" transform="translate(105.50,267.85) scale(1,1.04)">Sequence number of the profiles</text>
<text x="0" y="0" font-size="9" text-anchor="middle" font-style="italic" transform="translate(10.00,202.30) rotate(-90) scale(0.85,1)">θ</text>
<polyline points="34.70,178.40 50.80,171.40 66.90,173.00 83.00,174.60 99.10,165.40 115.20,162.60 131.30,154.00 147.40,160.80 163.50,162.40 179.60,162.60" fill="none" stroke="#000000" stroke-width="1"/>
<rect x="33.45" y="177.15" width="2.5" height="2.5" fill="#000000"/>
<rect x="49.55" y="170.15" width="2.5" height="2.5" fill="#000000"/>
<rect x="65.65" y="171.75" width="2.5" height="2.5" fill="#000000"/>
<rect x="81.75" y="173.35" width="2.5" height="2.5" fill="#000000"/>
<rect x="97.85" y="164.15" width="2.5" height="2.5" fill="#000000"/>
<rect x="113.95" y="161.35" width="2.5" height="2.5" fill="#000000"/>
<rect x="130.05" y="152.75" width="2.5" height="2.5" fill="#000000"/>
<rect x="146.15" y="159.55" width="2.5" height="2.5" fill="#000000"/>
<rect x="162.25" y="161.15" width="2.5" height="2.5" fill="#000000"/>
<rect x="178.35" y="161.35" width="2.5" height="2.5" fill="#000000"/>
<polyline points="34.70,188.20 50.80,180.80 66.90,182.40 83.00,185.40 99.10,174.40 115.20,170.40 131.30,160.80 147.40,168.60 163.50,171.40 179.60,170.00" fill="none" stroke="#ff0000" stroke-width="1"/>
<circle cx="34.70" cy="188.20" r="1.3125" fill="#ff0000"/>
<circle cx="50.80" cy="180.80" r="1.3125" fill="#ff0000"/>
<circle cx="66.90" cy="182.40" r="1.3125" fill="#ff0000"/>
<circle cx="83.00" cy="185.40" r="1.3125" fill="#ff0000"/>
<circle cx="99.10" cy="174.40" r="1.3125" fill="#ff0000"/>
<circle cx="115.20" cy="170.40" r="1.3125" fill="#ff0000"/>
<circle cx="131.30" cy="160.80" r="1.3125" fill="#ff0000"/>
<circle cx="147.40" cy="168.60" r="1.3125" fill="#ff0000"/>
<circle cx="163.50" cy="171.40" r="1.3125" fill="#ff0000"/>
<circle cx="179.60" cy="170.00" r="1.3125" fill="#ff0000"/>
<polyline points="34.70,197.40 50.80,190.00 66.90,192.00 83.00,193.00 99.10,182.40 115.20,177.60 131.30,167.00 147.40,176.00 163.50,179.60 179.60,177.60" fill="none" stroke="#0000ff" stroke-width="1"/>
<path d="M34.70,195.78L36.33,198.65L33.08,198.65Z" fill="#0000ff"/>
<path d="M50.80,188.38L52.43,191.25L49.18,191.25Z" fill="#0000ff"/>
<path d="M66.90,190.38L68.53,193.25L65.28,193.25Z" fill="#0000ff"/>
<path d="M83.00,191.38L84.62,194.25L81.38,194.25Z" fill="#0000ff"/>
<path d="M99.10,180.78L100.73,183.65L97.48,183.65Z" fill="#0000ff"/>
<path d="M115.20,175.97L116.83,178.85L113.58,178.85Z" fill="#0000ff"/>
<path d="M131.30,165.38L132.93,168.25L129.68,168.25Z" fill="#0000ff"/>
<path d="M147.40,174.38L149.03,177.25L145.78,177.25Z" fill="#0000ff"/>
<path d="M163.50,177.97L165.12,180.85L161.88,180.85Z" fill="#0000ff"/>
<path d="M179.60,175.97L181.23,178.85L177.98,178.85Z" fill="#0000ff"/>
<polyline points="34.70,203.00 50.80,196.40 66.90,198.40 83.00,199.60 99.10,188.40 115.20,183.40 131.30,172.00 147.40,180.60 163.50,185.00 179.60,180.80" fill="none" stroke="#ff00ff" stroke-width="1"/>
<path d="M34.70,204.62L36.33,201.75L33.08,201.75Z" fill="#ff00ff"/>
<path d="M50.80,198.03L52.43,195.15L49.18,195.15Z" fill="#ff00ff"/>
<path d="M66.90,200.03L68.53,197.15L65.28,197.15Z" fill="#ff00ff"/>
<path d="M83.00,201.22L84.62,198.35L81.38,198.35Z" fill="#ff00ff"/>
<path d="M99.10,190.03L100.73,187.15L97.48,187.15Z" fill="#ff00ff"/>
<path d="M115.20,185.03L116.83,182.15L113.58,182.15Z" fill="#ff00ff"/>
<path d="M131.30,173.62L132.93,170.75L129.68,170.75Z" fill="#ff00ff"/>
<path d="M147.40,182.22L149.03,179.35L145.78,179.35Z" fill="#ff00ff"/>
<path d="M163.50,186.62L165.12,183.75L161.88,183.75Z" fill="#ff00ff"/>
<path d="M179.60,182.43L181.23,179.55L177.98,179.55Z" fill="#ff00ff"/>
<polyline points="34.70,209.00 50.80,200.40 66.90,204.00 83.00,205.00 99.10,193.40 115.20,186.40 131.30,177.20 147.40,185.40 163.50,189.20 179.60,186.60" fill="none" stroke="#008000" stroke-width="1"/>
<path d="M34.70,207.25L36.45,209.00L34.70,210.75L32.95,209.00Z" fill="#008000"/>
<path d="M50.80,198.65L52.55,200.40L50.80,202.15L49.05,200.40Z" fill="#008000"/>
<path d="M66.90,202.25L68.65,204.00L66.90,205.75L65.15,204.00Z" fill="#008000"/>
<path d="M83.00,203.25L84.75,205.00L83.00,206.75L81.25,205.00Z" fill="#008000"/>
<path d="M99.10,191.65L100.85,193.40L99.10,195.15L97.35,193.40Z" fill="#008000"/>
<path d="M115.20,184.65L116.95,186.40L115.20,188.15L113.45,186.40Z" fill="#008000"/>
<path d="M131.30,175.45L133.05,177.20L131.30,178.95L129.55,177.20Z" fill="#008000"/>
<path d="M147.40,183.65L149.15,185.40L147.40,187.15L145.65,185.40Z" fill="#008000"/>
<path d="M163.50,187.45L165.25,189.20L163.50,190.95L161.75,189.20Z" fill="#008000"/>
<path d="M179.60,184.85L181.35,186.60L179.60,188.35L177.85,186.60Z" fill="#008000"/>
<polyline points="34.70,217.60 50.80,209.00 66.90,210.80 83.00,213.20 99.10,199.00 115.20,193.60 131.30,181.40 147.40,192.40 163.50,194.00 179.60,193.00" fill="none" stroke="#000080" stroke-width="1"/>
<path d="M33.08,217.60L35.95,215.97L35.95,219.22Z" fill="#000080"/>
<path d="M49.18,209.00L52.05,207.38L52.05,210.62Z" fill="#000080"/>
<path d="M65.28,210.80L68.15,209.18L68.15,212.43Z" fill="#000080"/>
<path d="M81.38,213.20L84.25,211.57L84.25,214.82Z" fill="#000080"/>
<path d="M97.48,199.00L100.35,197.38L100.35,200.62Z" fill="#000080"/>
<path d="M113.58,193.60L116.45,191.97L116.45,195.22Z" fill="#000080"/>
<path d="M129.68,181.40L132.55,179.78L132.55,183.03Z" fill="#000080"/>
<path d="M145.78,192.40L148.65,190.78L148.65,194.03Z" fill="#000080"/>
<path d="M161.88,194.00L164.75,192.38L164.75,195.62Z" fill="#000080"/>
<path d="M177.98,193.00L180.85,191.38L180.85,194.62Z" fill="#000080"/>
<polyline points="34.70,222.40 50.80,215.20 66.90,216.40 83.00,218.00 99.10,203.60 115.20,198.40 131.30,187.00 147.40,196.00 163.50,196.80 179.60,196.80" fill="none" stroke="#8000ff" stroke-width="1"/>
<path d="M36.33,222.40L33.45,220.78L33.45,224.03Z" fill="#8000ff"/>
<path d="M52.43,215.20L49.55,213.57L49.55,216.82Z" fill="#8000ff"/>
<path d="M68.53,216.40L65.65,214.78L65.65,218.03Z" fill="#8000ff"/>
<path d="M84.62,218.00L81.75,216.38L81.75,219.62Z" fill="#8000ff"/>
<path d="M100.73,203.60L97.85,201.97L97.85,205.22Z" fill="#8000ff"/>
<path d="M116.83,198.40L113.95,196.78L113.95,200.03Z" fill="#8000ff"/>
<path d="M132.93,187.00L130.05,185.38L130.05,188.62Z" fill="#8000ff"/>
<path d="M149.03,196.00L146.15,194.38L146.15,197.62Z" fill="#8000ff"/>
<path d="M165.12,196.80L162.25,195.18L162.25,198.43Z" fill="#8000ff"/>
<path d="M181.23,196.80L178.35,195.18L178.35,198.43Z" fill="#8000ff"/>
<polyline points="34.70,228.60 50.80,216.00 66.90,221.60 83.00,221.00 99.10,205.40 115.20,205.40 131.30,188.60 147.40,198.80 163.50,202.00 179.60,200.40" fill="none" stroke="#800080" stroke-width="1"/>
<circle cx="34.70" cy="228.60" r="1.375" fill="#800080"/>
<circle cx="50.80" cy="216.00" r="1.375" fill="#800080"/>
<circle cx="66.90" cy="221.60" r="1.375" fill="#800080"/>
<circle cx="83.00" cy="221.00" r="1.375" fill="#800080"/>
<circle cx="99.10" cy="205.40" r="1.375" fill="#800080"/>
<circle cx="115.20" cy="205.40" r="1.375" fill="#800080"/>
<circle cx="131.30" cy="188.60" r="1.375" fill="#800080"/>
<circle cx="147.40" cy="198.80" r="1.375" fill="#800080"/>
<circle cx="163.50" cy="202.00" r="1.375" fill="#800080"/>
<circle cx="179.60" cy="200.40" r="1.375" fill="#800080"/>
<line x1="34.00" y1="233.80" x2="50.50" y2="233.80" stroke="#000000" stroke-width="1"/>
<rect x="41.00" y="232.55" width="2.5" height="2.5" fill="#000000"/>
<text x="0" y="0" font-size="6.5" text-anchor="start"  transform="translate(52.00,235.73) scale(1.0,0.9)">0.1 mm</text>
<line x1="72.00" y1="233.80" x2="88.50" y2="233.80" stroke="#ff0000" stroke-width="1"/>
<circle cx="80.25" cy="233.80" r="1.3125" fill="#ff0000"/>
<text x="0" y="0" font-size="6.5" text-anchor="start"  transform="translate(90.00,235.73) scale(1.0,0.9)">0.5 mm</text>
<line x1="110.00" y1="233.80" x2="126.50" y2="233.80" stroke="#0000ff" stroke-width="1"/>
<path d="M118.25,232.18L119.88,235.05L116.62,235.05Z" fill="#0000ff"/>
<text x="0" y="0" font-size="6.5" text-anchor="start"  transform="translate(128.00,235.73) scale(1.0,0.9)">1.0 mm</text>
<line x1="148.50" y1="233.80" x2="165.00" y2="233.80" stroke="#ff00ff" stroke-width="1"/>
<path d="M156.75,235.43L158.38,232.55L155.12,232.55Z" fill="#ff00ff"/>
<text x="0" y="0" font-size="6.5" text-anchor="start"  transform="translate(166.50,235.73) scale(1.0,0.9)">1.5 mm</text>
<line x1="34.00" y1="242.20" x2="50.50" y2="242.20" stroke="#008000" stroke-width="1"/>
<path d="M42.25,240.45L44.00,242.20L42.25,243.95L40.50,242.20Z" fill="#008000"/>
<text x="0" y="0" font-size="6.5" text-anchor="start"  transform="translate(52.00,244.13) scale(1.0,0.9)">2.0 mm</text>
<line x1="72.00" y1="242.20" x2="88.50" y2="242.20" stroke="#000080" stroke-width="1"/>
<path d="M78.62,242.20L81.50,240.57L81.50,243.82Z" fill="#000080"/>
<text x="0" y="0" font-size="6.5" text-anchor="start"  transform="translate(90.00,244.13) scale(1.0,0.9)">3.0 mm</text>
<line x1="110.00" y1="242.20" x2="126.50" y2="242.20" stroke="#8000ff" stroke-width="1"/>
<path d="M119.88,242.20L117.00,240.57L117.00,243.82Z" fill="#8000ff"/>
<text x="0" y="0" font-size="6.5" text-anchor="start"  transform="translate(128.00,244.13) scale(1.0,0.9)">4.0 mm</text>
<line x1="148.50" y1="242.20" x2="165.00" y2="242.20" stroke="#800080" stroke-width="1"/>
<circle cx="156.75" cy="242.20" r="1.375" fill="#800080"/>
<text x="0" y="0" font-size="6.5" text-anchor="start"  transform="translate(166.50,244.13) scale(1.0,0.9)">5.0 mm</text>
<line x1="217.80" y1="148.20" x2="217.80" y2="247.90" stroke="#000" stroke-width="1.1"/>
<line x1="217.30" y1="247.40" x2="378.50" y2="247.40" stroke="#000" stroke-width="1.1"/>
<line x1="214.60" y1="234.80" x2="217.80" y2="234.80" stroke="#000" stroke-width="1"/>
<text x="0" y="0" font-size="8.0" text-anchor="end"  transform="translate(213.00,237.12) scale(1.0,0.88)">6</text>
<line x1="214.60" y1="217.60" x2="217.80" y2="217.60" stroke="#000" stroke-width="1"/>
<text x="0" y="0" font-size="8.0" text-anchor="end"  transform="translate(213.00,219.92) scale(1.0,0.88)">9</text>
<line x1="214.60" y1="200.40" x2="217.80" y2="200.40" stroke="#000" stroke-width="1"/>
<text x="0" y="0" font-size="8.0" text-anchor="end"  transform="translate(213.00,202.72) scale(1.0,0.88)">12</text>
<line x1="214.60" y1="183.20" x2="217.80" y2="183.20" stroke="#000" stroke-width="1"/>
<text x="0" y="0" font-size="8.0" text-anchor="end"  transform="translate(213.00,185.52) scale(1.0,0.88)">15</text>
<line x1="214.60" y1="166.00" x2="217.80" y2="166.00" stroke="#000" stroke-width="1"/>
<text x="0" y="0" font-size="8.0" text-anchor="end"  transform="translate(213.00,168.32) scale(1.0,0.88)">18</text>
<line x1="214.60" y1="148.80" x2="217.80" y2="148.80" stroke="#000" stroke-width="1"/>
<text x="0" y="0" font-size="8.0" text-anchor="end"  transform="translate(213.00,151.12) scale(1.0,0.88)">21</text>
<line x1="216.00" y1="243.40" x2="217.80" y2="243.40" stroke="#000" stroke-width="1"/>
<line x1="216.00" y1="226.20" x2="217.80" y2="226.20" stroke="#000" stroke-width="1"/>
<line x1="216.00" y1="209.00" x2="217.80" y2="209.00" stroke="#000" stroke-width="1"/>
<line x1="216.00" y1="191.80" x2="217.80" y2="191.80" stroke="#000" stroke-width="1"/>
<line x1="216.00" y1="174.60" x2="217.80" y2="174.60" stroke="#000" stroke-width="1"/>
<line x1="216.00" y1="157.40" x2="217.80" y2="157.40" stroke="#000" stroke-width="1"/>
<line x1="226.30" y1="247.40" x2="226.30" y2="250.40" stroke="#000" stroke-width="1"/>
<line x1="234.29" y1="247.40" x2="234.29" y2="249.20" stroke="#000" stroke-width="1"/>
<text x="0" y="0" font-size="8.0" text-anchor="middle"  transform="translate(226.30,256.82) scale(1.0,0.88)">1</text>
<line x1="242.27" y1="247.40" x2="242.27" y2="250.40" stroke="#000" stroke-width="1"/>
<line x1="250.26" y1="247.40" x2="250.26" y2="249.20" stroke="#000" stroke-width="1"/>
<text x="0" y="0" font-size="8.0" text-anchor="middle"  transform="translate(242.27,256.82) scale(1.0,0.88)">2</text>
<line x1="258.24" y1="247.40" x2="258.24" y2="250.40" stroke="#000" stroke-width="1"/>
<line x1="266.23" y1="247.40" x2="266.23" y2="249.20" stroke="#000" stroke-width="1"/>
<text x="0" y="0" font-size="8.0" text-anchor="middle"  transform="translate(258.24,256.82) scale(1.0,0.88)">3</text>
<line x1="274.21" y1="247.40" x2="274.21" y2="250.40" stroke="#000" stroke-width="1"/>
<line x1="282.20" y1="247.40" x2="282.20" y2="249.20" stroke="#000" stroke-width="1"/>
<text x="0" y="0" font-size="8.0" text-anchor="middle"  transform="translate(274.21,256.82) scale(1.0,0.88)">4</text>
<line x1="290.18" y1="247.40" x2="290.18" y2="250.40" stroke="#000" stroke-width="1"/>
<line x1="298.17" y1="247.40" x2="298.17" y2="249.20" stroke="#000" stroke-width="1"/>
<text x="0" y="0" font-size="8.0" text-anchor="middle"  transform="translate(290.18,256.82) scale(1.0,0.88)">5</text>
<line x1="306.15" y1="247.40" x2="306.15" y2="250.40" stroke="#000" stroke-width="1"/>
<line x1="314.14" y1="247.40" x2="314.14" y2="249.20" stroke="#000" stroke-width="1"/>
<text x="0" y="0" font-size="8.0" text-anchor="middle"  transform="translate(306.15,256.82) scale(1.0,0.88)">6</text>
<line x1="322.12" y1="247.40" x2="322.12" y2="250.40" stroke="#000" stroke-width="1"/>
<line x1="330.11" y1="247.40" x2="330.11" y2="249.20" stroke="#000" stroke-width="1"/>
<text x="0" y="0" font-size="8.0" text-anchor="middle"  transform="translate(322.12,256.82) scale(1.0,0.88)">7</text>
<line x1="338.09" y1="247.40" x2="338.09" y2="250.40" stroke="#000" stroke-width="1"/>
<line x1="346.08" y1="247.40" x2="346.08" y2="249.20" stroke="#000" stroke-width="1"/>
<text x="0" y="0" font-size="8.0" text-anchor="middle"  transform="translate(338.09,256.82) scale(1.0,0.88)">8</text>
<line x1="354.06" y1="247.40" x2="354.06" y2="250.40" stroke="#000" stroke-width="1"/>
<line x1="362.05" y1="247.40" x2="362.05" y2="249.20" stroke="#000" stroke-width="1"/>
<text x="0" y="0" font-size="8.0" text-anchor="middle"  transform="translate(354.06,256.82) scale(1.0,0.88)">9</text>
<line x1="370.03" y1="247.40" x2="370.03" y2="250.40" stroke="#000" stroke-width="1"/>
<line x1="378.02" y1="247.40" x2="378.02" y2="249.20" stroke="#000" stroke-width="1"/>
<text x="0" y="0" font-size="8.0" text-anchor="middle"  transform="translate(370.03,256.82) scale(1.0,0.88)">10</text>
<text x="0" y="0" font-size="8.75" text-anchor="middle" transform="translate(298.10,269.05) scale(1,1.04)">Sequence number of the profiles</text>
<text x="0" y="0" font-size="9" text-anchor="middle" font-style="italic" transform="translate(201.00,202.50) rotate(-90) scale(0.85,1)">σ<tspan font-size="5" dy="2" font-style="normal">t</tspan></text>
<polyline points="226.30,173.00 242.27,163.60 258.24,168.00 274.21,171.60 290.18,157.00 306.15,155.00 322.12,155.60 338.09,149.00 354.06,160.00 370.03,152.00" fill="none" stroke="#000000" stroke-width="1"/>
<rect x="225.05" y="171.75" width="2.5" height="2.5" fill="#000000"/>
<rect x="241.02" y="162.35" width="2.5" height="2.5" fill="#000000"/>
<rect x="256.99" y="166.75" width="2.5" height="2.5" fill="#000000"/>
<rect x="272.96" y="170.35" width="2.5" height="2.5" fill="#000000"/>
<rect x="288.93" y="155.75" width="2.5" height="2.5" fill="#000000"/>
<rect x="304.90" y="153.75" width="2.5" height="2.5" fill="#000000"/>
<rect x="320.87" y="154.35" width="2.5" height="2.5" fill="#000000"/>
<rect x="336.84" y="147.75" width="2.5" height="2.5" fill="#000000"/>
<rect x="352.81" y="158.75" width="2.5" height="2.5" fill="#000000"/>
<rect x="368.78" y="150.75" width="2.5" height="2.5" fill="#000000"/>
<polyline points="226.30,184.00 242.27,174.00 258.24,178.60 274.21,182.60 290.18,167.00 306.15,163.60 322.12,163.60 338.09,157.60 354.06,170.00 370.03,161.00" fill="none" stroke="#ff0000" stroke-width="1"/>
<circle cx="226.30" cy="184.00" r="1.3125" fill="#ff0000"/>
<circle cx="242.27" cy="174.00" r="1.3125" fill="#ff0000"/>
<circle cx="258.24" cy="178.60" r="1.3125" fill="#ff0000"/>
<circle cx="274.21" cy="182.60" r="1.3125" fill="#ff0000"/>
<circle cx="290.18" cy="167.00" r="1.3125" fill="#ff0000"/>
<circle cx="306.15" cy="163.60" r="1.3125" fill="#ff0000"/>
<circle cx="322.12" cy="163.60" r="1.3125" fill="#ff0000"/>
<circle cx="338.09" cy="157.60" r="1.3125" fill="#ff0000"/>
<circle cx="354.06" cy="170.00" r="1.3125" fill="#ff0000"/>
<circle cx="370.03" cy="161.00" r="1.3125" fill="#ff0000"/>
<polyline points="226.30,193.60 242.27,183.00 258.24,189.00 274.21,191.60 290.18,176.00 306.15,171.60 322.12,170.60 338.09,165.60 354.06,178.60 370.03,169.40" fill="none" stroke="#0000ff" stroke-width="1"/>
<path d="M226.30,191.97L227.93,194.85L224.68,194.85Z" fill="#0000ff"/>
<path d="M242.27,181.38L243.90,184.25L240.65,184.25Z" fill="#0000ff"/>
<path d="M258.24,187.38L259.87,190.25L256.62,190.25Z" fill="#0000ff"/>
<path d="M274.21,189.97L275.84,192.85L272.59,192.85Z" fill="#0000ff"/>
<path d="M290.18,174.38L291.81,177.25L288.56,177.25Z" fill="#0000ff"/>
<path d="M306.15,169.97L307.78,172.85L304.53,172.85Z" fill="#0000ff"/>
<path d="M322.12,168.97L323.75,171.85L320.50,171.85Z" fill="#0000ff"/>
<path d="M338.09,163.97L339.72,166.85L336.47,166.85Z" fill="#0000ff"/>
<path d="M354.06,176.97L355.69,179.85L352.44,179.85Z" fill="#0000ff"/>
<path d="M370.03,167.78L371.66,170.65L368.41,170.65Z" fill="#0000ff"/>
<polyline points="226.30,200.00 242.27,190.60 258.24,196.00 274.21,199.40 290.18,182.40 306.15,177.60 322.12,176.00 338.09,171.00 354.06,185.00 370.03,174.00" fill="none" stroke="#ff00ff" stroke-width="1"/>
<path d="M226.30,201.62L227.93,198.75L224.68,198.75Z" fill="#ff00ff"/>
<path d="M242.27,192.22L243.90,189.35L240.65,189.35Z" fill="#ff00ff"/>
<path d="M258.24,197.62L259.87,194.75L256.62,194.75Z" fill="#ff00ff"/>
<path d="M274.21,201.03L275.84,198.15L272.59,198.15Z" fill="#ff00ff"/>
<path d="M290.18,184.03L291.81,181.15L288.56,181.15Z" fill="#ff00ff"/>
<path d="M306.15,179.22L307.78,176.35L304.53,176.35Z" fill="#ff00ff"/>
<path d="M322.12,177.62L323.75,174.75L320.50,174.75Z" fill="#ff00ff"/>
<path d="M338.09,172.62L339.72,169.75L336.47,169.75Z" fill="#ff00ff"/>
<path d="M354.06,186.62L355.69,183.75L352.44,183.75Z" fill="#ff00ff"/>
<path d="M370.03,175.62L371.66,172.75L368.41,172.75Z" fill="#ff00ff"/>
<polyline points="226.30,207.40 242.27,195.40 258.24,201.60 274.21,204.40 290.18,187.40 306.15,182.00 322.12,181.00 338.09,176.00 354.06,189.00 370.03,179.60" fill="none" stroke="#008000" stroke-width="1"/>
<path d="M226.30,205.65L228.05,207.40L226.30,209.15L224.55,207.40Z" fill="#008000"/>
<path d="M242.27,193.65L244.02,195.40L242.27,197.15L240.52,195.40Z" fill="#008000"/>
<path d="M258.24,199.85L259.99,201.60L258.24,203.35L256.49,201.60Z" fill="#008000"/>
<path d="M274.21,202.65L275.96,204.40L274.21,206.15L272.46,204.40Z" fill="#008000"/>
<path d="M290.18,185.65L291.93,187.40L290.18,189.15L288.43,187.40Z" fill="#008000"/>
<path d="M306.15,180.25L307.90,182.00L306.15,183.75L304.40,182.00Z" fill="#008000"/>
<path d="M322.12,179.25L323.87,181.00L322.12,182.75L320.37,181.00Z" fill="#008000"/>
<path d="M338.09,174.25L339.84,176.00L338.09,177.75L336.34,176.00Z" fill="#008000"/>
<path d="M354.06,187.25L355.81,189.00L354.06,190.75L352.31,189.00Z" fill="#008000"/>
<path d="M370.03,177.85L371.78,179.60L370.03,181.35L368.28,179.60Z" fill="#008000"/>
<polyline points="226.30,216.00 242.27,203.60 258.24,209.60 274.21,213.00 290.18,194.00 306.15,189.00 322.12,186.00 338.09,182.60 354.06,195.60 370.03,186.00" fill="none" stroke="#000080" stroke-width="1"/>
<path d="M224.68,216.00L227.55,214.38L227.55,217.62Z" fill="#000080"/>
<path d="M240.65,203.60L243.52,201.97L243.52,205.22Z" fill="#000080"/>
<path d="M256.62,209.60L259.49,207.97L259.49,211.22Z" fill="#000080"/>
<path d="M272.59,213.00L275.46,211.38L275.46,214.62Z" fill="#000080"/>
<path d="M288.56,194.00L291.43,192.38L291.43,195.62Z" fill="#000080"/>
<path d="M304.53,189.00L307.40,187.38L307.40,190.62Z" fill="#000080"/>
<path d="M320.50,186.00L323.37,184.38L323.37,187.62Z" fill="#000080"/>
<path d="M336.47,182.60L339.34,180.97L339.34,184.22Z" fill="#000080"/>
<path d="M352.44,195.60L355.31,193.97L355.31,197.22Z" fill="#000080"/>
<path d="M368.41,186.00L371.28,184.38L371.28,187.62Z" fill="#000080"/>
<polyline points="226.30,221.00 242.27,210.40 258.24,215.00 274.21,218.40 290.18,199.60 306.15,193.60 322.12,191.00 338.09,185.60 354.06,198.00 370.03,191.00" fill="none" stroke="#8000ff" stroke-width="1"/>
<path d="M227.93,221.00L225.05,219.38L225.05,222.62Z" fill="#8000ff"/>
<path d="M243.90,210.40L241.02,208.78L241.02,212.03Z" fill="#8000ff"/>
<path d="M259.87,215.00L256.99,213.38L256.99,216.62Z" fill="#8000ff"/>
<path d="M275.84,218.40L272.96,216.78L272.96,220.03Z" fill="#8000ff"/>
<path d="M291.81,199.60L288.93,197.97L288.93,201.22Z" fill="#8000ff"/>
<path d="M307.78,193.60L304.90,191.97L304.90,195.22Z" fill="#8000ff"/>
<path d="M323.75,191.00L320.87,189.38L320.87,192.62Z" fill="#8000ff"/>
<path d="M339.72,185.60L336.84,183.97L336.84,187.22Z" fill="#8000ff"/>
<path d="M355.69,198.00L352.81,196.38L352.81,199.62Z" fill="#8000ff"/>
<path d="M371.66,191.00L368.78,189.38L368.78,192.62Z" fill="#8000ff"/>
<polyline points="226.30,228.40 242.27,211.40 258.24,221.00 274.21,221.00 290.18,202.40 306.15,201.60 322.12,193.60 338.09,190.60 354.06,204.40 370.03,194.40" fill="none" stroke="#800080" stroke-width="1"/>
<circle cx="226.30" cy="228.40" r="1.375" fill="#800080"/>
<circle cx="242.27" cy="211.40" r="1.375" fill="#800080"/>
<circle cx="258.24" cy="221.00" r="1.375" fill="#800080"/>
<circle cx="274.21" cy="221.00" r="1.375" fill="#800080"/>
<circle cx="290.18" cy="202.40" r="1.375" fill="#800080"/>
<circle cx="306.15" cy="201.60" r="1.375" fill="#800080"/>
<circle cx="322.12" cy="193.60" r="1.375" fill="#800080"/>
<circle cx="338.09" cy="190.60" r="1.375" fill="#800080"/>
<circle cx="354.06" cy="204.40" r="1.375" fill="#800080"/>
<circle cx="370.03" cy="194.40" r="1.375" fill="#800080"/>
<line x1="226.00" y1="233.70" x2="242.50" y2="233.70" stroke="#000000" stroke-width="1"/>
<rect x="233.00" y="232.45" width="2.5" height="2.5" fill="#000000"/>
<text x="0" y="0" font-size="6.5" text-anchor="start"  transform="translate(244.00,235.63) scale(1.0,0.9)">0.1 mm</text>
<line x1="264.00" y1="233.70" x2="280.50" y2="233.70" stroke="#ff0000" stroke-width="1"/>
<circle cx="272.25" cy="233.70" r="1.3125" fill="#ff0000"/>
<text x="0" y="0" font-size="6.5" text-anchor="start"  transform="translate(282.00,235.63) scale(1.0,0.9)">0.5 mm</text>
<line x1="302.00" y1="233.70" x2="318.50" y2="233.70" stroke="#0000ff" stroke-width="1"/>
<path d="M310.25,232.07L311.88,234.95L308.62,234.95Z" fill="#0000ff"/>
<text x="0" y="0" font-size="6.5" text-anchor="start"  transform="translate(320.00,235.63) scale(1.0,0.9)">1.0 mm</text>
<line x1="339.50" y1="233.70" x2="356.00" y2="233.70" stroke="#ff00ff" stroke-width="1"/>
<path d="M347.75,235.32L349.38,232.45L346.12,232.45Z" fill="#ff00ff"/>
<text x="0" y="0" font-size="6.5" text-anchor="start"  transform="translate(357.50,235.63) scale(1.0,0.9)">1.5 mm</text>
<line x1="226.00" y1="242.00" x2="242.50" y2="242.00" stroke="#008000" stroke-width="1"/>
<path d="M234.25,240.25L236.00,242.00L234.25,243.75L232.50,242.00Z" fill="#008000"/>
<text x="0" y="0" font-size="6.5" text-anchor="start"  transform="translate(244.00,243.93) scale(1.0,0.9)">2.0 mm</text>
<line x1="264.00" y1="242.00" x2="280.50" y2="242.00" stroke="#000080" stroke-width="1"/>
<path d="M270.62,242.00L273.50,240.38L273.50,243.62Z" fill="#000080"/>
<text x="0" y="0" font-size="6.5" text-anchor="start"  transform="translate(282.00,243.93) scale(1.0,0.9)">3.0 mm</text>
<line x1="302.00" y1="242.00" x2="318.50" y2="242.00" stroke="#8000ff" stroke-width="1"/>
<path d="M311.88,242.00L309.00,240.38L309.00,243.62Z" fill="#8000ff"/>
<text x="0" y="0" font-size="6.5" text-anchor="start"  transform="translate(320.00,243.93) scale(1.0,0.9)">4.0 mm</text>
<line x1="339.50" y1="242.00" x2="356.00" y2="242.00" stroke="#800080" stroke-width="1"/>
<circle cx="347.75" cy="242.00" r="1.375" fill="#800080"/>
<text x="0" y="0" font-size="6.5" text-anchor="start"  transform="translate(357.50,243.93) scale(1.0,0.9)">5.0 mm</text>
<rect x="33.05" y="366.40" width="1.61" height="20.10" fill="#000000"/>
<rect x="34.61" y="366.50" width="1.61" height="20.00" fill="#ff0000"/>
<rect x="36.17" y="366.60" width="1.61" height="19.90" fill="#0000ff"/>
<rect x="37.74" y="366.60" width="1.61" height="19.90" fill="#ff00ff"/>
<rect x="39.30" y="366.70" width="1.61" height="19.80" fill="#008000"/>
<rect x="40.86" y="366.80" width="1.61" height="19.70" fill="#000080"/>
<rect x="42.42" y="366.90" width="1.61" height="19.60" fill="#8000ff"/>
<rect x="43.99" y="367.00" width="1.61" height="19.50" fill="#800080"/>
<rect x="48.71" y="347.00" width="1.61" height="39.50" fill="#000000"/>
<rect x="50.27" y="347.50" width="1.61" height="39.00" fill="#ff0000"/>
<rect x="51.83" y="348.00" width="1.61" height="38.50" fill="#0000ff"/>
<rect x="53.40" y="349.00" width="1.61" height="37.50" fill="#ff00ff"/>
<rect x="54.96" y="350.00" width="1.61" height="36.50" fill="#008000"/>
<rect x="56.52" y="351.00" width="1.61" height="35.50" fill="#000080"/>
<rect x="58.08" y="353.00" width="1.61" height="33.50" fill="#8000ff"/>
<rect x="59.65" y="353.50" width="1.61" height="33.00" fill="#800080"/>
<rect x="64.37" y="357.00" width="1.61" height="29.50" fill="#000000"/>
<rect x="65.93" y="357.30" width="1.61" height="29.20" fill="#ff0000"/>
<rect x="67.50" y="357.60" width="1.61" height="28.90" fill="#0000ff"/>
<rect x="69.06" y="357.80" width="1.61" height="28.70" fill="#ff00ff"/>
<rect x="70.62" y="358.00" width="1.61" height="28.50" fill="#008000"/>
<rect x="72.18" y="358.30" width="1.61" height="28.20" fill="#000080"/>
<rect x="73.75" y="358.60" width="1.61" height="27.90" fill="#8000ff"/>
<rect x="75.31" y="358.90" width="1.61" height="27.60" fill="#800080"/>
<rect x="80.03" y="343.60" width="1.61" height="42.90" fill="#000000"/>
<rect x="81.59" y="343.60" width="1.61" height="42.90" fill="#ff0000"/>
<rect x="83.16" y="343.60" width="1.61" height="42.90" fill="#0000ff"/>
<rect x="84.72" y="343.60" width="1.61" height="42.90" fill="#ff00ff"/>
<rect x="86.28" y="343.60" width="1.61" height="42.90" fill="#008000"/>
<rect x="87.84" y="343.60" width="1.61" height="42.90" fill="#000080"/>
<rect x="89.41" y="343.50" width="1.61" height="43.00" fill="#8000ff"/>
<rect x="90.97" y="343.10" width="1.61" height="43.40" fill="#800080"/>
<rect x="95.69" y="323.60" width="1.61" height="62.90" fill="#000000"/>
<rect x="97.25" y="323.80" width="1.61" height="62.70" fill="#ff0000"/>
<rect x="98.81" y="324.00" width="1.61" height="62.50" fill="#0000ff"/>
<rect x="100.38" y="324.30" width="1.61" height="62.20" fill="#ff00ff"/>
<rect x="101.94" y="324.60" width="1.61" height="61.90" fill="#008000"/>
<rect x="103.50" y="325.00" width="1.61" height="61.50" fill="#000080"/>
<rect x="105.06" y="325.30" width="1.61" height="61.20" fill="#8000ff"/>
<rect x="106.63" y="325.50" width="1.61" height="61.00" fill="#800080"/>
<rect x="111.35" y="315.10" width="1.61" height="71.40" fill="#000000"/>
<rect x="112.91" y="315.70" width="1.61" height="70.80" fill="#ff0000"/>
<rect x="114.47" y="316.70" width="1.61" height="69.80" fill="#0000ff"/>
<rect x="116.04" y="317.30" width="1.61" height="69.20" fill="#ff00ff"/>
<rect x="117.60" y="318.20" width="1.61" height="68.30" fill="#008000"/>
<rect x="119.16" y="319.70" width="1.61" height="66.80" fill="#000080"/>
<rect x="120.72" y="323.00" width="1.61" height="63.50" fill="#8000ff"/>
<rect x="122.29" y="323.00" width="1.61" height="63.50" fill="#800080"/>
<rect x="127.01" y="302.90" width="1.61" height="83.60" fill="#000000"/>
<rect x="128.57" y="302.90" width="1.61" height="83.60" fill="#ff0000"/>
<rect x="130.13" y="302.90" width="1.61" height="83.60" fill="#0000ff"/>
<rect x="131.70" y="302.90" width="1.61" height="83.60" fill="#ff00ff"/>
<rect x="133.26" y="302.80" width="1.61" height="83.70" fill="#008000"/>
<rect x="134.82" y="302.70" width="1.61" height="83.80" fill="#000080"/>
<rect x="136.38" y="302.50" width="1.61" height="84.00" fill="#8000ff"/>
<rect x="137.95" y="302.20" width="1.61" height="84.30" fill="#800080"/>
<rect x="142.67" y="309.80" width="1.61" height="76.70" fill="#000000"/>
<rect x="144.23" y="310.70" width="1.61" height="75.80" fill="#ff0000"/>
<rect x="145.80" y="312.70" width="1.61" height="73.80" fill="#0000ff"/>
<rect x="147.36" y="314.40" width="1.61" height="72.10" fill="#ff00ff"/>
<rect x="148.92" y="316.70" width="1.61" height="69.80" fill="#008000"/>
<rect x="150.48" y="319.30" width="1.61" height="67.20" fill="#000080"/>
<rect x="152.05" y="326.50" width="1.61" height="60.00" fill="#8000ff"/>
<rect x="153.61" y="325.40" width="1.61" height="61.10" fill="#800080"/>
<rect x="158.33" y="306.80" width="1.61" height="79.70" fill="#000000"/>
<rect x="159.89" y="307.00" width="1.61" height="79.50" fill="#ff0000"/>
<rect x="161.45" y="307.30" width="1.61" height="79.20" fill="#0000ff"/>
<rect x="163.02" y="307.60" width="1.61" height="78.90" fill="#ff00ff"/>
<rect x="164.58" y="308.00" width="1.61" height="78.50" fill="#008000"/>
<rect x="166.14" y="308.40" width="1.61" height="78.10" fill="#000080"/>
<rect x="167.70" y="309.50" width="1.61" height="77.00" fill="#8000ff"/>
<rect x="169.27" y="310.20" width="1.61" height="76.30" fill="#800080"/>
<rect x="173.99" y="301.00" width="1.61" height="85.50" fill="#000000"/>
<rect x="175.55" y="300.50" width="1.61" height="86.00" fill="#ff0000"/>
<rect x="177.12" y="300.00" width="1.61" height="86.50" fill="#0000ff"/>
<rect x="178.68" y="299.50" width="1.61" height="87.00" fill="#ff00ff"/>
<rect x="180.24" y="299.00" width="1.61" height="87.50" fill="#008000"/>
<rect x="181.80" y="298.50" width="1.61" height="88.00" fill="#000080"/>
<rect x="183.37" y="298.00" width="1.61" height="88.50" fill="#8000ff"/>
<rect x="184.93" y="297.30" width="1.61" height="89.20" fill="#800080"/>
<line x1="31.30" y1="287.30" x2="31.30" y2="387.00" stroke="#000" stroke-width="1.1"/>
<line x1="30.80" y1="386.50" x2="188.00" y2="386.50" stroke="#000" stroke-width="1.1"/>
<line x1="28.10" y1="386.40" x2="31.30" y2="386.40" stroke="#000" stroke-width="1"/>
<text x="0" y="0" font-size="8.4" text-anchor="end"  transform="translate(26.30,388.62) scale(1.0,0.8)">0.0</text>
<line x1="28.10" y1="361.80" x2="31.30" y2="361.80" stroke="#000" stroke-width="1"/>
<text x="0" y="0" font-size="8.4" text-anchor="end"  transform="translate(26.30,364.02) scale(1.0,0.8)">0.4</text>
<line x1="28.10" y1="337.20" x2="31.30" y2="337.20" stroke="#000" stroke-width="1"/>
<text x="0" y="0" font-size="8.4" text-anchor="end"  transform="translate(26.30,339.42) scale(1.0,0.8)">0.8</text>
<line x1="28.10" y1="312.60" x2="31.30" y2="312.60" stroke="#000" stroke-width="1"/>
<text x="0" y="0" font-size="8.4" text-anchor="end"  transform="translate(26.30,314.82) scale(1.0,0.8)">1.2</text>
<line x1="28.10" y1="288.00" x2="31.30" y2="288.00" stroke="#000" stroke-width="1"/>
<text x="0" y="0" font-size="8.4" text-anchor="end"  transform="translate(26.30,290.22) scale(1.0,0.8)">1.6</text>
<line x1="29.50" y1="374.10" x2="31.30" y2="374.10" stroke="#000" stroke-width="1"/>
<line x1="29.50" y1="349.50" x2="31.30" y2="349.50" stroke="#000" stroke-width="1"/>
<line x1="29.50" y1="324.90" x2="31.30" y2="324.90" stroke="#000" stroke-width="1"/>
<line x1="29.50" y1="300.30" x2="31.30" y2="300.30" stroke="#000" stroke-width="1"/>
<line x1="39.30" y1="386.50" x2="39.30" y2="389.50" stroke="#000" stroke-width="1"/>
<line x1="47.13" y1="386.50" x2="47.13" y2="388.30" stroke="#000" stroke-width="1"/>
<text x="0" y="0" font-size="8.4" text-anchor="middle"  transform="translate(39.30,397.22) scale(1.0,0.8)">1</text>
<line x1="54.96" y1="386.50" x2="54.96" y2="389.50" stroke="#000" stroke-width="1"/>
<line x1="62.79" y1="386.50" x2="62.79" y2="388.30" stroke="#000" stroke-width="1"/>
<text x="0" y="0" font-size="8.4" text-anchor="middle"  transform="translate(54.96,397.22) scale(1.0,0.8)">2</text>
<line x1="70.62" y1="386.50" x2="70.62" y2="389.50" stroke="#000" stroke-width="1"/>
<line x1="78.45" y1="386.50" x2="78.45" y2="388.30" stroke="#000" stroke-width="1"/>
<text x="0" y="0" font-size="8.4" text-anchor="middle"  transform="translate(70.62,397.22) scale(1.0,0.8)">3</text>
<line x1="86.28" y1="386.50" x2="86.28" y2="389.50" stroke="#000" stroke-width="1"/>
<line x1="94.11" y1="386.50" x2="94.11" y2="388.30" stroke="#000" stroke-width="1"/>
<text x="0" y="0" font-size="8.4" text-anchor="middle"  transform="translate(86.28,397.22) scale(1.0,0.8)">4</text>
<line x1="101.94" y1="386.50" x2="101.94" y2="389.50" stroke="#000" stroke-width="1"/>
<line x1="109.77" y1="386.50" x2="109.77" y2="388.30" stroke="#000" stroke-width="1"/>
<text x="0" y="0" font-size="8.4" text-anchor="middle"  transform="translate(101.94,397.22) scale(1.0,0.8)">5</text>
<line x1="117.60" y1="386.50" x2="117.60" y2="389.50" stroke="#000" stroke-width="1"/>
<line x1="125.43" y1="386.50" x2="125.43" y2="388.30" stroke="#000" stroke-width="1"/>
<text x="0" y="0" font-size="8.4" text-anchor="middle"  transform="translate(117.60,397.22) scale(1.0,0.8)">6</text>
<line x1="133.26" y1="386.50" x2="133.26" y2="389.50" stroke="#000" stroke-width="1"/>
<line x1="141.09" y1="386.50" x2="141.09" y2="388.30" stroke="#000" stroke-width="1"/>
<text x="0" y="0" font-size="8.4" text-anchor="middle"  transform="translate(133.26,397.22) scale(1.0,0.8)">7</text>
<line x1="148.92" y1="386.50" x2="148.92" y2="389.50" stroke="#000" stroke-width="1"/>
<line x1="156.75" y1="386.50" x2="156.75" y2="388.30" stroke="#000" stroke-width="1"/>
<text x="0" y="0" font-size="8.4" text-anchor="middle"  transform="translate(148.92,397.22) scale(1.0,0.8)">8</text>
<line x1="164.58" y1="386.50" x2="164.58" y2="389.50" stroke="#000" stroke-width="1"/>
<line x1="172.41" y1="386.50" x2="172.41" y2="388.30" stroke="#000" stroke-width="1"/>
<text x="0" y="0" font-size="8.4" text-anchor="middle"  transform="translate(164.58,397.22) scale(1.0,0.8)">9</text>
<line x1="180.24" y1="386.50" x2="180.24" y2="389.50" stroke="#000" stroke-width="1"/>
<line x1="188.07" y1="386.50" x2="188.07" y2="388.30" stroke="#000" stroke-width="1"/>
<text x="0" y="0" font-size="8.4" text-anchor="middle"  transform="translate(180.24,397.22) scale(1.0,0.8)">10</text>
<text x="0" y="0" font-size="8.75" text-anchor="middle" transform="translate(108.30,406.85) scale(1,1.04)">Sequence number of the profiles</text>
<text x="0" y="0" font-size="9" text-anchor="middle" font-style="italic" transform="translate(9.00,342.00) rotate(-90) scale(0.85,1)">R<tspan font-size="5" dy="2">a</tspan></text>
<rect x="33.30" y="287.40" width="11.8" height="5.10" fill="#000000"/>
<text x="0" y="0" font-size="7.2" text-anchor="start"  transform="translate(46.70,292.04) scale(1.0,0.88)">0.1 mm</text>
<rect x="68.80" y="287.40" width="11.8" height="5.10" fill="#ff0000"/>
<text x="0" y="0" font-size="7.2" text-anchor="start"  transform="translate(82.20,292.04) scale(1.0,0.88)">0.5 mm</text>
<rect x="104.30" y="287.40" width="11.8" height="5.10" fill="#0000ff"/>
<text x="0" y="0" font-size="7.2" text-anchor="start"  transform="translate(117.70,292.04) scale(1.0,0.88)">1.0 mm</text>
<rect x="139.30" y="287.40" width="11.8" height="5.10" fill="#ff00ff"/>
<text x="0" y="0" font-size="7.2" text-anchor="start"  transform="translate(152.70,292.04) scale(1.0,0.88)">1.5 mm</text>
<rect x="33.30" y="295.80" width="11.8" height="5.00" fill="#008000"/>
<text x="0" y="0" font-size="7.2" text-anchor="start"  transform="translate(46.70,300.39) scale(1.0,0.88)">2.0 mm</text>
<rect x="68.80" y="295.80" width="11.8" height="5.00" fill="#000080"/>
<text x="0" y="0" font-size="7.2" text-anchor="start"  transform="translate(82.20,300.39) scale(1.0,0.88)">3.0 mm</text>
<rect x="104.30" y="295.80" width="11.8" height="5.00" fill="#8000ff"/>
<text x="0" y="0" font-size="7.2" text-anchor="start"  transform="translate(117.70,300.39) scale(1.0,0.88)">4.0 mm</text>
<rect x="139.30" y="295.80" width="11.8" height="5.00" fill="#800080"/>
<text x="0" y="0" font-size="7.2" text-anchor="start"  transform="translate(152.70,300.39) scale(1.0,0.88)">5.0 mm</text>
<rect x="220.65" y="364.20" width="1.61" height="22.00" fill="#000000"/>
<rect x="222.21" y="364.20" width="1.61" height="22.00" fill="#ff0000"/>
<rect x="223.78" y="364.20" width="1.61" height="22.00" fill="#0000ff"/>
<rect x="225.34" y="364.20" width="1.61" height="22.00" fill="#ff00ff"/>
<rect x="226.90" y="364.20" width="1.61" height="22.00" fill="#008000"/>
<rect x="228.46" y="364.20" width="1.61" height="22.00" fill="#000080"/>
<rect x="230.03" y="364.20" width="1.61" height="22.00" fill="#8000ff"/>
<rect x="231.59" y="364.20" width="1.61" height="22.00" fill="#800080"/>
<rect x="236.63" y="343.00" width="1.61" height="43.20" fill="#000000"/>
<rect x="238.19" y="343.00" width="1.61" height="43.20" fill="#ff0000"/>
<rect x="239.75" y="343.00" width="1.61" height="43.20" fill="#0000ff"/>
<rect x="241.32" y="343.00" width="1.61" height="43.20" fill="#ff00ff"/>
<rect x="242.88" y="343.00" width="1.61" height="43.20" fill="#008000"/>
<rect x="244.44" y="343.00" width="1.61" height="43.20" fill="#000080"/>
<rect x="246.00" y="342.80" width="1.61" height="43.40" fill="#8000ff"/>
<rect x="247.57" y="341.80" width="1.61" height="44.40" fill="#800080"/>
<rect x="252.61" y="354.20" width="1.61" height="32.00" fill="#000000"/>
<rect x="254.17" y="354.20" width="1.61" height="32.00" fill="#ff0000"/>
<rect x="255.74" y="354.20" width="1.61" height="32.00" fill="#0000ff"/>
<rect x="257.30" y="354.20" width="1.61" height="32.00" fill="#ff00ff"/>
<rect x="258.86" y="354.20" width="1.61" height="32.00" fill="#008000"/>
<rect x="260.42" y="354.20" width="1.61" height="32.00" fill="#000080"/>
<rect x="261.99" y="354.20" width="1.61" height="32.00" fill="#8000ff"/>
<rect x="263.55" y="354.20" width="1.61" height="32.00" fill="#800080"/>
<rect x="268.59" y="340.90" width="1.61" height="45.30" fill="#000000"/>
<rect x="270.15" y="340.90" width="1.61" height="45.30" fill="#ff0000"/>
<rect x="271.72" y="340.90" width="1.61" height="45.30" fill="#0000ff"/>
<rect x="273.28" y="340.90" width="1.61" height="45.30" fill="#ff00ff"/>
<rect x="274.84" y="340.90" width="1.61" height="45.30" fill="#008000"/>
<rect x="276.40" y="340.90" width="1.61" height="45.30" fill="#000080"/>
<rect x="277.97" y="340.80" width="1.61" height="45.40" fill="#8000ff"/>
<rect x="279.53" y="340.60" width="1.61" height="45.60" fill="#800080"/>
<rect x="284.57" y="320.40" width="1.61" height="65.80" fill="#000000"/>
<rect x="286.13" y="320.40" width="1.61" height="65.80" fill="#ff0000"/>
<rect x="287.69" y="320.40" width="1.61" height="65.80" fill="#0000ff"/>
<rect x="289.26" y="320.40" width="1.61" height="65.80" fill="#ff00ff"/>
<rect x="290.82" y="320.50" width="1.61" height="65.70" fill="#008000"/>
<rect x="292.38" y="320.60" width="1.61" height="65.60" fill="#000080"/>
<rect x="293.94" y="321.00" width="1.61" height="65.20" fill="#8000ff"/>
<rect x="295.51" y="321.50" width="1.61" height="64.70" fill="#800080"/>
<rect x="300.55" y="314.10" width="1.61" height="72.10" fill="#000000"/>
<rect x="302.11" y="314.10" width="1.61" height="72.10" fill="#ff0000"/>
<rect x="303.68" y="314.10" width="1.61" height="72.10" fill="#0000ff"/>
<rect x="305.24" y="314.10" width="1.61" height="72.10" fill="#ff00ff"/>
<rect x="306.80" y="314.10" width="1.61" height="72.10" fill="#008000"/>
<rect x="308.36" y="314.10" width="1.61" height="72.10" fill="#000080"/>
<rect x="309.93" y="314.10" width="1.61" height="72.10" fill="#8000ff"/>
<rect x="311.49" y="314.10" width="1.61" height="72.10" fill="#800080"/>
<rect x="316.53" y="300.10" width="1.61" height="86.10" fill="#000000"/>
<rect x="318.09" y="300.10" width="1.61" height="86.10" fill="#ff0000"/>
<rect x="319.65" y="300.10" width="1.61" height="86.10" fill="#0000ff"/>
<rect x="321.22" y="300.10" width="1.61" height="86.10" fill="#ff00ff"/>
<rect x="322.78" y="300.00" width="1.61" height="86.20" fill="#008000"/>
<rect x="324.34" y="299.80" width="1.61" height="86.40" fill="#000080"/>
<rect x="325.90" y="299.40" width="1.61" height="86.80" fill="#8000ff"/>
<rect x="327.47" y="299.00" width="1.61" height="87.20" fill="#800080"/>
<rect x="332.51" y="301.90" width="1.61" height="84.30" fill="#000000"/>
<rect x="334.07" y="301.50" width="1.61" height="84.70" fill="#ff0000"/>
<rect x="335.63" y="301.00" width="1.61" height="85.20" fill="#0000ff"/>
<rect x="337.20" y="300.50" width="1.61" height="85.70" fill="#ff00ff"/>
<rect x="338.76" y="300.00" width="1.61" height="86.20" fill="#008000"/>
<rect x="340.32" y="299.50" width="1.61" height="86.70" fill="#000080"/>
<rect x="341.88" y="299.00" width="1.61" height="87.20" fill="#8000ff"/>
<rect x="343.45" y="297.80" width="1.61" height="88.40" fill="#800080"/>
<rect x="348.49" y="302.30" width="1.61" height="83.90" fill="#000000"/>
<rect x="350.05" y="302.00" width="1.61" height="84.20" fill="#ff0000"/>
<rect x="351.62" y="301.50" width="1.61" height="84.70" fill="#0000ff"/>
<rect x="353.18" y="301.00" width="1.61" height="85.20" fill="#ff00ff"/>
<rect x="354.74" y="300.50" width="1.61" height="85.70" fill="#008000"/>
<rect x="356.30" y="300.00" width="1.61" height="86.20" fill="#000080"/>
<rect x="357.87" y="299.50" width="1.61" height="86.70" fill="#8000ff"/>
<rect x="359.43" y="298.90" width="1.61" height="87.30" fill="#800080"/>
<rect x="364.47" y="297.30" width="1.61" height="88.90" fill="#000000"/>
<rect x="366.03" y="296.70" width="1.61" height="89.50" fill="#ff0000"/>
<rect x="367.60" y="296.10" width="1.61" height="90.10" fill="#0000ff"/>
<rect x="369.16" y="295.50" width="1.61" height="90.70" fill="#ff00ff"/>
<rect x="370.72" y="294.90" width="1.61" height="91.30" fill="#008000"/>
<rect x="372.28" y="294.30" width="1.61" height="91.90" fill="#000080"/>
<rect x="373.85" y="293.60" width="1.61" height="92.60" fill="#8000ff"/>
<rect x="375.41" y="292.80" width="1.61" height="93.40" fill="#800080"/>
<line x1="218.90" y1="282.40" x2="218.90" y2="386.70" stroke="#000" stroke-width="1.1"/>
<line x1="218.40" y1="386.20" x2="378.80" y2="386.20" stroke="#000" stroke-width="1.1"/>
<line x1="215.70" y1="386.10" x2="218.90" y2="386.10" stroke="#000" stroke-width="1"/>
<text x="0" y="0" font-size="8.4" text-anchor="end"  transform="translate(213.60,388.32) scale(1.0,0.8)">0.0</text>
<line x1="215.70" y1="364.50" x2="218.90" y2="364.50" stroke="#000" stroke-width="1"/>
<text x="0" y="0" font-size="8.4" text-anchor="end"  transform="translate(213.60,366.72) scale(1.0,0.8)">0.4</text>
<line x1="215.70" y1="342.90" x2="218.90" y2="342.90" stroke="#000" stroke-width="1"/>
<text x="0" y="0" font-size="8.4" text-anchor="end"  transform="translate(213.60,345.12) scale(1.0,0.8)">0.8</text>
<line x1="215.70" y1="321.30" x2="218.90" y2="321.30" stroke="#000" stroke-width="1"/>
<text x="0" y="0" font-size="8.4" text-anchor="end"  transform="translate(213.60,323.52) scale(1.0,0.8)">1.2</text>
<line x1="215.70" y1="299.70" x2="218.90" y2="299.70" stroke="#000" stroke-width="1"/>
<text x="0" y="0" font-size="8.4" text-anchor="end"  transform="translate(213.60,301.92) scale(1.0,0.8)">1.6</text>
<line x1="217.10" y1="375.30" x2="218.90" y2="375.30" stroke="#000" stroke-width="1"/>
<line x1="217.10" y1="353.70" x2="218.90" y2="353.70" stroke="#000" stroke-width="1"/>
<line x1="217.10" y1="332.10" x2="218.90" y2="332.10" stroke="#000" stroke-width="1"/>
<line x1="217.10" y1="310.50" x2="218.90" y2="310.50" stroke="#000" stroke-width="1"/>
<line x1="217.10" y1="288.90" x2="218.90" y2="288.90" stroke="#000" stroke-width="1"/>
<line x1="226.90" y1="386.20" x2="226.90" y2="389.20" stroke="#000" stroke-width="1"/>
<line x1="234.89" y1="386.20" x2="234.89" y2="388.00" stroke="#000" stroke-width="1"/>
<text x="0" y="0" font-size="8.4" text-anchor="middle"  transform="translate(226.90,397.22) scale(1.0,0.8)">1</text>
<line x1="242.88" y1="386.20" x2="242.88" y2="389.20" stroke="#000" stroke-width="1"/>
<line x1="250.87" y1="386.20" x2="250.87" y2="388.00" stroke="#000" stroke-width="1"/>
<text x="0" y="0" font-size="8.4" text-anchor="middle"  transform="translate(242.88,397.22) scale(1.0,0.8)">2</text>
<line x1="258.86" y1="386.20" x2="258.86" y2="389.20" stroke="#000" stroke-width="1"/>
<line x1="266.85" y1="386.20" x2="266.85" y2="388.00" stroke="#000" stroke-width="1"/>
<text x="0" y="0" font-size="8.4" text-anchor="middle"  transform="translate(258.86,397.22) scale(1.0,0.8)">3</text>
<line x1="274.84" y1="386.20" x2="274.84" y2="389.20" stroke="#000" stroke-width="1"/>
<line x1="282.83" y1="386.20" x2="282.83" y2="388.00" stroke="#000" stroke-width="1"/>
<text x="0" y="0" font-size="8.4" text-anchor="middle"  transform="translate(274.84,397.22) scale(1.0,0.8)">4</text>
<line x1="290.82" y1="386.20" x2="290.82" y2="389.20" stroke="#000" stroke-width="1"/>
<line x1="298.81" y1="386.20" x2="298.81" y2="388.00" stroke="#000" stroke-width="1"/>
<text x="0" y="0" font-size="8.4" text-anchor="middle"  transform="translate(290.82,397.22) scale(1.0,0.8)">5</text>
<line x1="306.80" y1="386.20" x2="306.80" y2="389.20" stroke="#000" stroke-width="1"/>
<line x1="314.79" y1="386.20" x2="314.79" y2="388.00" stroke="#000" stroke-width="1"/>
<text x="0" y="0" font-size="8.4" text-anchor="middle"  transform="translate(306.80,397.22) scale(1.0,0.8)">6</text>
<line x1="322.78" y1="386.20" x2="322.78" y2="389.20" stroke="#000" stroke-width="1"/>
<line x1="330.77" y1="386.20" x2="330.77" y2="388.00" stroke="#000" stroke-width="1"/>
<text x="0" y="0" font-size="8.4" text-anchor="middle"  transform="translate(322.78,397.22) scale(1.0,0.8)">7</text>
<line x1="338.76" y1="386.20" x2="338.76" y2="389.20" stroke="#000" stroke-width="1"/>
<line x1="346.75" y1="386.20" x2="346.75" y2="388.00" stroke="#000" stroke-width="1"/>
<text x="0" y="0" font-size="8.4" text-anchor="middle"  transform="translate(338.76,397.22) scale(1.0,0.8)">8</text>
<line x1="354.74" y1="386.20" x2="354.74" y2="389.20" stroke="#000" stroke-width="1"/>
<line x1="362.73" y1="386.20" x2="362.73" y2="388.00" stroke="#000" stroke-width="1"/>
<text x="0" y="0" font-size="8.4" text-anchor="middle"  transform="translate(354.74,397.22) scale(1.0,0.8)">9</text>
<line x1="370.72" y1="386.20" x2="370.72" y2="389.20" stroke="#000" stroke-width="1"/>
<line x1="378.71" y1="386.20" x2="378.71" y2="388.00" stroke="#000" stroke-width="1"/>
<text x="0" y="0" font-size="8.4" text-anchor="middle"  transform="translate(370.72,397.22) scale(1.0,0.8)">10</text>
<text x="0" y="0" font-size="8.75" text-anchor="middle" transform="translate(298.00,407.25) scale(1,1.04)">Sequence number of the profiles</text>
<text x="0" y="0" font-size="9" text-anchor="middle" font-style="italic" transform="translate(198.00,341.00) rotate(-90) scale(0.85,1)">R<tspan font-size="5" dy="2">q</tspan></text>
<rect x="220.30" y="284.10" width="11.8" height="4.60" fill="#000000"/>
<text x="0" y="0" font-size="7.2" text-anchor="start"  transform="translate(233.70,288.49) scale(1.0,0.88)">0.1 mm</text>
<rect x="256.60" y="284.10" width="11.8" height="4.60" fill="#ff0000"/>
<text x="0" y="0" font-size="7.2" text-anchor="start"  transform="translate(270.00,288.49) scale(1.0,0.88)">0.5 mm</text>
<rect x="292.50" y="284.10" width="11.8" height="4.60" fill="#0000ff"/>
<text x="0" y="0" font-size="7.2" text-anchor="start"  transform="translate(305.90,288.49) scale(1.0,0.88)">1.0 mm</text>
<rect x="328.70" y="284.10" width="11.8" height="4.60" fill="#ff00ff"/>
<text x="0" y="0" font-size="7.2" text-anchor="start"  transform="translate(342.10,288.49) scale(1.0,0.88)">1.5 mm</text>
<rect x="220.30" y="292.70" width="11.8" height="5.00" fill="#008000"/>
<text x="0" y="0" font-size="7.2" text-anchor="start"  transform="translate(233.70,297.29) scale(1.0,0.88)">2.0 mm</text>
<rect x="256.60" y="292.70" width="11.8" height="5.00" fill="#000080"/>
<text x="0" y="0" font-size="7.2" text-anchor="start"  transform="translate(270.00,297.29) scale(1.0,0.88)">3.0 mm</text>
<rect x="292.50" y="292.70" width="11.8" height="5.00" fill="#8000ff"/>
<text x="0" y="0" font-size="7.2" text-anchor="start"  transform="translate(305.90,297.29) scale(1.0,0.88)">4.0 mm</text>
<rect x="328.70" y="292.70" width="11.8" height="5.00" fill="#800080"/>
<text x="0" y="0" font-size="7.2" text-anchor="start"  transform="translate(342.10,297.29) scale(1.0,0.88)">5.0 mm</text>
<rect x="30.25" y="502.30" width="1.61" height="23.00" fill="#000000"/>
<rect x="31.81" y="502.60" width="1.61" height="22.70" fill="#ff0000"/>
<rect x="33.38" y="503.00" width="1.61" height="22.30" fill="#0000ff"/>
<rect x="34.94" y="503.20" width="1.61" height="22.10" fill="#ff00ff"/>
<rect x="36.50" y="503.90" width="1.61" height="21.40" fill="#008000"/>
<rect x="38.06" y="505.40" width="1.61" height="19.90" fill="#000080"/>
<rect x="39.62" y="504.90" width="1.61" height="20.40" fill="#8000ff"/>
<rect x="41.19" y="506.10" width="1.61" height="19.20" fill="#800080"/>
<rect x="46.22" y="483.10" width="1.61" height="42.20" fill="#000000"/>
<rect x="47.78" y="483.50" width="1.61" height="41.80" fill="#ff0000"/>
<rect x="49.34" y="484.20" width="1.61" height="41.10" fill="#0000ff"/>
<rect x="50.91" y="484.60" width="1.61" height="40.70" fill="#ff00ff"/>
<rect x="52.47" y="485.50" width="1.61" height="39.80" fill="#008000"/>
<rect x="54.03" y="486.80" width="1.61" height="38.50" fill="#000080"/>
<rect x="55.59" y="488.10" width="1.61" height="37.20" fill="#8000ff"/>
<rect x="57.16" y="488.40" width="1.61" height="36.90" fill="#800080"/>
<rect x="62.19" y="491.00" width="1.61" height="34.30" fill="#000000"/>
<rect x="63.75" y="491.10" width="1.61" height="34.20" fill="#ff0000"/>
<rect x="65.31" y="492.10" width="1.61" height="33.20" fill="#0000ff"/>
<rect x="66.88" y="492.30" width="1.61" height="33.00" fill="#ff00ff"/>
<rect x="68.44" y="493.10" width="1.61" height="32.20" fill="#008000"/>
<rect x="70.00" y="494.70" width="1.61" height="30.60" fill="#000080"/>
<rect x="71.56" y="494.90" width="1.61" height="30.40" fill="#8000ff"/>
<rect x="73.13" y="495.70" width="1.61" height="29.60" fill="#800080"/>
<rect x="78.16" y="482.60" width="1.61" height="42.70" fill="#000000"/>
<rect x="79.72" y="482.80" width="1.61" height="42.50" fill="#ff0000"/>
<rect x="81.28" y="483.50" width="1.61" height="41.80" fill="#0000ff"/>
<rect x="82.85" y="483.80" width="1.61" height="41.50" fill="#ff00ff"/>
<rect x="84.41" y="485.00" width="1.61" height="40.30" fill="#008000"/>
<rect x="85.97" y="487.10" width="1.61" height="38.20" fill="#000080"/>
<rect x="87.53" y="488.30" width="1.61" height="37.00" fill="#8000ff"/>
<rect x="89.10" y="487.60" width="1.61" height="37.70" fill="#800080"/>
<rect x="94.13" y="466.90" width="1.61" height="58.40" fill="#000000"/>
<rect x="95.69" y="467.00" width="1.61" height="58.30" fill="#ff0000"/>
<rect x="97.25" y="467.80" width="1.61" height="57.50" fill="#0000ff"/>
<rect x="98.82" y="468.00" width="1.61" height="57.30" fill="#ff00ff"/>
<rect x="100.38" y="468.90" width="1.61" height="56.40" fill="#008000"/>
<rect x="101.94" y="470.20" width="1.61" height="55.10" fill="#000080"/>
<rect x="103.50" y="471.40" width="1.61" height="53.90" fill="#8000ff"/>
<rect x="105.07" y="472.20" width="1.61" height="53.10" fill="#800080"/>
<rect x="110.10" y="460.70" width="1.61" height="64.60" fill="#000000"/>
<rect x="111.66" y="461.00" width="1.61" height="64.30" fill="#ff0000"/>
<rect x="113.23" y="461.50" width="1.61" height="63.80" fill="#0000ff"/>
<rect x="114.79" y="462.30" width="1.61" height="63.00" fill="#ff00ff"/>
<rect x="116.35" y="464.00" width="1.61" height="61.30" fill="#008000"/>
<rect x="117.91" y="466.10" width="1.61" height="59.20" fill="#000080"/>
<rect x="119.48" y="467.80" width="1.61" height="57.50" fill="#8000ff"/>
<rect x="121.04" y="469.40" width="1.61" height="55.90" fill="#800080"/>
<rect x="126.07" y="447.90" width="1.61" height="77.40" fill="#000000"/>
<rect x="127.63" y="448.10" width="1.61" height="77.20" fill="#ff0000"/>
<rect x="129.19" y="448.90" width="1.61" height="76.40" fill="#0000ff"/>
<rect x="130.76" y="449.40" width="1.61" height="75.90" fill="#ff00ff"/>
<rect x="132.32" y="450.40" width="1.61" height="74.90" fill="#008000"/>
<rect x="133.88" y="451.10" width="1.61" height="74.20" fill="#000080"/>
<rect x="135.44" y="452.70" width="1.61" height="72.60" fill="#8000ff"/>
<rect x="137.01" y="453.20" width="1.61" height="72.10" fill="#800080"/>
<rect x="142.04" y="445.00" width="1.61" height="80.30" fill="#000000"/>
<rect x="143.60" y="445.20" width="1.61" height="80.10" fill="#ff0000"/>
<rect x="145.17" y="446.00" width="1.61" height="79.30" fill="#0000ff"/>
<rect x="146.73" y="446.20" width="1.61" height="79.10" fill="#ff00ff"/>
<rect x="148.29" y="447.00" width="1.61" height="78.30" fill="#008000"/>
<rect x="149.85" y="447.90" width="1.61" height="77.40" fill="#000080"/>
<rect x="151.42" y="449.80" width="1.61" height="75.50" fill="#8000ff"/>
<rect x="152.98" y="448.90" width="1.61" height="76.40" fill="#800080"/>
<rect x="158.01" y="445.40" width="1.61" height="79.90" fill="#000000"/>
<rect x="159.57" y="445.50" width="1.61" height="79.80" fill="#ff0000"/>
<rect x="161.13" y="446.00" width="1.61" height="79.30" fill="#0000ff"/>
<rect x="162.70" y="446.20" width="1.61" height="79.10" fill="#ff00ff"/>
<rect x="164.26" y="447.00" width="1.61" height="78.30" fill="#008000"/>
<rect x="165.82" y="447.90" width="1.61" height="77.40" fill="#000080"/>
<rect x="167.38" y="449.20" width="1.61" height="76.10" fill="#8000ff"/>
<rect x="168.95" y="449.80" width="1.61" height="75.50" fill="#800080"/>
<rect x="173.98" y="440.30" width="1.61" height="85.00" fill="#000000"/>
<rect x="175.54" y="440.50" width="1.61" height="84.80" fill="#ff0000"/>
<rect x="177.11" y="441.20" width="1.61" height="84.10" fill="#0000ff"/>
<rect x="178.67" y="441.80" width="1.61" height="83.50" fill="#ff00ff"/>
<rect x="180.23" y="442.60" width="1.61" height="82.70" fill="#008000"/>
<rect x="181.79" y="443.70" width="1.61" height="81.60" fill="#000080"/>
<rect x="183.36" y="444.80" width="1.61" height="80.50" fill="#8000ff"/>
<rect x="184.92" y="444.80" width="1.61" height="80.50" fill="#800080"/>
<line x1="27.60" y1="426.30" x2="27.60" y2="525.80" stroke="#000" stroke-width="1.1"/>
<line x1="27.10" y1="525.30" x2="188.00" y2="525.30" stroke="#000" stroke-width="1.1"/>
<line x1="24.40" y1="525.30" x2="27.60" y2="525.30" stroke="#000" stroke-width="1"/>
<text x="0" y="0" font-size="8.4" text-anchor="end"  transform="translate(22.40,527.52) scale(1.0,0.8)">0.0</text>
<line x1="24.40" y1="505.64" x2="27.60" y2="505.64" stroke="#000" stroke-width="1"/>
<text x="0" y="0" font-size="8.4" text-anchor="end"  transform="translate(22.40,507.86) scale(1.0,0.8)">1.5</text>
<line x1="24.40" y1="485.98" x2="27.60" y2="485.98" stroke="#000" stroke-width="1"/>
<text x="0" y="0" font-size="8.4" text-anchor="end"  transform="translate(22.40,488.20) scale(1.0,0.8)">3.0</text>
<line x1="24.40" y1="466.32" x2="27.60" y2="466.32" stroke="#000" stroke-width="1"/>
<text x="0" y="0" font-size="8.4" text-anchor="end"  transform="translate(22.40,468.54) scale(1.0,0.8)">4.5</text>
<line x1="24.40" y1="446.66" x2="27.60" y2="446.66" stroke="#000" stroke-width="1"/>
<text x="0" y="0" font-size="8.4" text-anchor="end"  transform="translate(22.40,448.88) scale(1.0,0.8)">6.0</text>
<line x1="24.40" y1="427.00" x2="27.60" y2="427.00" stroke="#000" stroke-width="1"/>
<text x="0" y="0" font-size="8.4" text-anchor="end"  transform="translate(22.40,429.22) scale(1.0,0.8)">7.5</text>
<line x1="25.80" y1="515.47" x2="27.60" y2="515.47" stroke="#000" stroke-width="1"/>
<line x1="25.80" y1="495.81" x2="27.60" y2="495.81" stroke="#000" stroke-width="1"/>
<line x1="25.80" y1="476.15" x2="27.60" y2="476.15" stroke="#000" stroke-width="1"/>
<line x1="25.80" y1="456.49" x2="27.60" y2="456.49" stroke="#000" stroke-width="1"/>
<line x1="25.80" y1="436.83" x2="27.60" y2="436.83" stroke="#000" stroke-width="1"/>
<line x1="36.50" y1="525.30" x2="36.50" y2="528.30" stroke="#000" stroke-width="1"/>
<line x1="44.48" y1="525.30" x2="44.48" y2="527.10" stroke="#000" stroke-width="1"/>
<text x="0" y="0" font-size="8.4" text-anchor="middle"  transform="translate(36.50,535.52) scale(1.0,0.8)">1</text>
<line x1="52.47" y1="525.30" x2="52.47" y2="528.30" stroke="#000" stroke-width="1"/>
<line x1="60.45" y1="525.30" x2="60.45" y2="527.10" stroke="#000" stroke-width="1"/>
<text x="0" y="0" font-size="8.4" text-anchor="middle"  transform="translate(52.47,535.52) scale(1.0,0.8)">2</text>
<line x1="68.44" y1="525.30" x2="68.44" y2="528.30" stroke="#000" stroke-width="1"/>
<line x1="76.42" y1="525.30" x2="76.42" y2="527.10" stroke="#000" stroke-width="1"/>
<text x="0" y="0" font-size="8.4" text-anchor="middle"  transform="translate(68.44,535.52) scale(1.0,0.8)">3</text>
<line x1="84.41" y1="525.30" x2="84.41" y2="528.30" stroke="#000" stroke-width="1"/>
<line x1="92.39" y1="525.30" x2="92.39" y2="527.10" stroke="#000" stroke-width="1"/>
<text x="0" y="0" font-size="8.4" text-anchor="middle"  transform="translate(84.41,535.52) scale(1.0,0.8)">4</text>
<line x1="100.38" y1="525.30" x2="100.38" y2="528.30" stroke="#000" stroke-width="1"/>
<line x1="108.36" y1="525.30" x2="108.36" y2="527.10" stroke="#000" stroke-width="1"/>
<text x="0" y="0" font-size="8.4" text-anchor="middle"  transform="translate(100.38,535.52) scale(1.0,0.8)">5</text>
<line x1="116.35" y1="525.30" x2="116.35" y2="528.30" stroke="#000" stroke-width="1"/>
<line x1="124.34" y1="525.30" x2="124.34" y2="527.10" stroke="#000" stroke-width="1"/>
<text x="0" y="0" font-size="8.4" text-anchor="middle"  transform="translate(116.35,535.52) scale(1.0,0.8)">6</text>
<line x1="132.32" y1="525.30" x2="132.32" y2="528.30" stroke="#000" stroke-width="1"/>
<line x1="140.31" y1="525.30" x2="140.31" y2="527.10" stroke="#000" stroke-width="1"/>
<text x="0" y="0" font-size="8.4" text-anchor="middle"  transform="translate(132.32,535.52) scale(1.0,0.8)">7</text>
<line x1="148.29" y1="525.30" x2="148.29" y2="528.30" stroke="#000" stroke-width="1"/>
<line x1="156.28" y1="525.30" x2="156.28" y2="527.10" stroke="#000" stroke-width="1"/>
<text x="0" y="0" font-size="8.4" text-anchor="middle"  transform="translate(148.29,535.52) scale(1.0,0.8)">8</text>
<line x1="164.26" y1="525.30" x2="164.26" y2="528.30" stroke="#000" stroke-width="1"/>
<line x1="172.25" y1="525.30" x2="172.25" y2="527.10" stroke="#000" stroke-width="1"/>
<text x="0" y="0" font-size="8.4" text-anchor="middle"  transform="translate(164.26,535.52) scale(1.0,0.8)">9</text>
<line x1="180.23" y1="525.30" x2="180.23" y2="528.30" stroke="#000" stroke-width="1"/>
<line x1="188.22" y1="525.30" x2="188.22" y2="527.10" stroke="#000" stroke-width="1"/>
<text x="0" y="0" font-size="8.4" text-anchor="middle"  transform="translate(180.23,535.52) scale(1.0,0.8)">10</text>
<text x="0" y="0" font-size="8.75" text-anchor="middle" transform="translate(107.00,546.45) scale(1,1.04)">Sequence number of the profiles</text>
<text x="0" y="0" font-size="9" text-anchor="middle" font-style="italic" transform="translate(9.00,481.50) rotate(-90) scale(0.85,1)">R<tspan font-size="5" dy="2">z</tspan></text>
<rect x="29.40" y="427.40" width="11.8" height="4.40" fill="#000000"/>
<text x="0" y="0" font-size="7.2" text-anchor="start"  transform="translate(42.80,431.69) scale(1.0,0.88)">0.1 mm</text>
<rect x="65.50" y="427.40" width="11.8" height="4.40" fill="#ff0000"/>
<text x="0" y="0" font-size="7.2" text-anchor="start"  transform="translate(78.90,431.69) scale(1.0,0.88)">0.5 mm</text>
<rect x="101.50" y="427.40" width="11.8" height="4.40" fill="#0000ff"/>
<text x="0" y="0" font-size="7.2" text-anchor="start"  transform="translate(114.90,431.69) scale(1.0,0.88)">1.0 mm</text>
<rect x="137.60" y="427.40" width="11.8" height="4.40" fill="#ff00ff"/>
<text x="0" y="0" font-size="7.2" text-anchor="start"  transform="translate(151.00,431.69) scale(1.0,0.88)">1.5 mm</text>
<rect x="29.40" y="435.50" width="11.8" height="4.90" fill="#008000"/>
<text x="0" y="0" font-size="7.2" text-anchor="start"  transform="translate(42.80,440.04) scale(1.0,0.88)">2.0 mm</text>
<rect x="65.50" y="435.50" width="11.8" height="4.90" fill="#000080"/>
<text x="0" y="0" font-size="7.2" text-anchor="start"  transform="translate(78.90,440.04) scale(1.0,0.88)">3.0 mm</text>
<rect x="101.50" y="435.50" width="11.8" height="4.90" fill="#8000ff"/>
<text x="0" y="0" font-size="7.2" text-anchor="start"  transform="translate(114.90,440.04) scale(1.0,0.88)">4.0 mm</text>
<rect x="137.60" y="435.50" width="11.8" height="4.90" fill="#800080"/>
<text x="0" y="0" font-size="7.2" text-anchor="start"  transform="translate(151.00,440.04) scale(1.0,0.88)">5.0 mm</text>
<rect x="223.25" y="501.50" width="1.61" height="23.80" fill="#000000"/>
<rect x="224.81" y="501.70" width="1.61" height="23.60" fill="#ff0000"/>
<rect x="226.38" y="502.10" width="1.61" height="23.20" fill="#0000ff"/>
<rect x="227.94" y="502.30" width="1.61" height="23.00" fill="#ff00ff"/>
<rect x="229.50" y="503.00" width="1.61" height="22.30" fill="#008000"/>
<rect x="231.06" y="504.70" width="1.61" height="20.60" fill="#000080"/>
<rect x="232.62" y="503.60" width="1.61" height="21.70" fill="#8000ff"/>
<rect x="234.19" y="505.70" width="1.61" height="19.60" fill="#800080"/>
<rect x="238.91" y="481.60" width="1.61" height="43.70" fill="#000000"/>
<rect x="240.47" y="481.80" width="1.61" height="43.50" fill="#ff0000"/>
<rect x="242.03" y="483.00" width="1.61" height="42.30" fill="#0000ff"/>
<rect x="243.60" y="483.20" width="1.61" height="42.10" fill="#ff00ff"/>
<rect x="245.16" y="484.10" width="1.61" height="41.20" fill="#008000"/>
<rect x="246.72" y="485.10" width="1.61" height="40.20" fill="#000080"/>
<rect x="248.28" y="486.20" width="1.61" height="39.10" fill="#8000ff"/>
<rect x="249.85" y="486.80" width="1.61" height="38.50" fill="#800080"/>
<rect x="254.57" y="490.00" width="1.61" height="35.30" fill="#000000"/>
<rect x="256.13" y="490.20" width="1.61" height="35.10" fill="#ff0000"/>
<rect x="257.69" y="490.60" width="1.61" height="34.70" fill="#0000ff"/>
<rect x="259.26" y="490.90" width="1.61" height="34.40" fill="#ff00ff"/>
<rect x="260.82" y="491.60" width="1.61" height="33.70" fill="#008000"/>
<rect x="262.38" y="492.50" width="1.61" height="32.80" fill="#000080"/>
<rect x="263.94" y="493.10" width="1.61" height="32.20" fill="#8000ff"/>
<rect x="265.51" y="494.80" width="1.61" height="30.50" fill="#800080"/>
<rect x="270.23" y="481.00" width="1.61" height="44.30" fill="#000000"/>
<rect x="271.79" y="481.20" width="1.61" height="44.10" fill="#ff0000"/>
<rect x="273.36" y="481.80" width="1.61" height="43.50" fill="#0000ff"/>
<rect x="274.92" y="482.00" width="1.61" height="43.30" fill="#ff00ff"/>
<rect x="276.48" y="483.00" width="1.61" height="42.30" fill="#008000"/>
<rect x="278.04" y="484.40" width="1.61" height="40.90" fill="#000080"/>
<rect x="279.61" y="485.70" width="1.61" height="39.60" fill="#8000ff"/>
<rect x="281.17" y="486.10" width="1.61" height="39.20" fill="#800080"/>
<rect x="285.89" y="464.70" width="1.61" height="60.60" fill="#000000"/>
<rect x="287.45" y="464.90" width="1.61" height="60.40" fill="#ff0000"/>
<rect x="289.01" y="465.60" width="1.61" height="59.70" fill="#0000ff"/>
<rect x="290.58" y="465.80" width="1.61" height="59.50" fill="#ff00ff"/>
<rect x="292.14" y="466.80" width="1.61" height="58.50" fill="#008000"/>
<rect x="293.70" y="468.20" width="1.61" height="57.10" fill="#000080"/>
<rect x="295.26" y="466.80" width="1.61" height="58.50" fill="#8000ff"/>
<rect x="296.83" y="470.40" width="1.61" height="54.90" fill="#800080"/>
<rect x="301.55" y="457.90" width="1.61" height="67.40" fill="#000000"/>
<rect x="303.11" y="458.00" width="1.61" height="67.30" fill="#ff0000"/>
<rect x="304.68" y="458.80" width="1.61" height="66.50" fill="#0000ff"/>
<rect x="306.24" y="459.00" width="1.61" height="66.30" fill="#ff00ff"/>
<rect x="307.80" y="460.10" width="1.61" height="65.20" fill="#008000"/>
<rect x="309.36" y="461.70" width="1.61" height="63.60" fill="#000080"/>
<rect x="310.93" y="463.00" width="1.61" height="62.30" fill="#8000ff"/>
<rect x="312.49" y="465.90" width="1.61" height="59.40" fill="#800080"/>
<rect x="317.21" y="445.10" width="1.61" height="80.20" fill="#000000"/>
<rect x="318.77" y="445.30" width="1.61" height="80.00" fill="#ff0000"/>
<rect x="320.34" y="446.10" width="1.61" height="79.20" fill="#0000ff"/>
<rect x="321.90" y="446.30" width="1.61" height="79.00" fill="#ff00ff"/>
<rect x="323.46" y="447.10" width="1.61" height="78.20" fill="#008000"/>
<rect x="325.02" y="447.80" width="1.61" height="77.50" fill="#000080"/>
<rect x="326.59" y="448.60" width="1.61" height="76.70" fill="#8000ff"/>
<rect x="328.15" y="449.90" width="1.61" height="75.40" fill="#800080"/>
<rect x="332.87" y="441.50" width="1.61" height="83.80" fill="#000000"/>
<rect x="334.43" y="441.70" width="1.61" height="83.60" fill="#ff0000"/>
<rect x="336.00" y="442.50" width="1.61" height="82.80" fill="#0000ff"/>
<rect x="337.56" y="442.70" width="1.61" height="82.60" fill="#ff00ff"/>
<rect x="339.12" y="443.40" width="1.61" height="81.90" fill="#008000"/>
<rect x="340.68" y="444.00" width="1.61" height="81.30" fill="#000080"/>
<rect x="342.25" y="445.10" width="1.61" height="80.20" fill="#8000ff"/>
<rect x="343.81" y="445.70" width="1.61" height="79.60" fill="#800080"/>
<rect x="348.53" y="441.90" width="1.61" height="83.40" fill="#000000"/>
<rect x="350.09" y="442.00" width="1.61" height="83.30" fill="#ff0000"/>
<rect x="351.65" y="442.50" width="1.61" height="82.80" fill="#0000ff"/>
<rect x="353.22" y="442.70" width="1.61" height="82.60" fill="#ff00ff"/>
<rect x="354.78" y="443.40" width="1.61" height="81.90" fill="#008000"/>
<rect x="356.34" y="444.00" width="1.61" height="81.30" fill="#000080"/>
<rect x="357.90" y="444.60" width="1.61" height="80.70" fill="#8000ff"/>
<rect x="359.47" y="446.10" width="1.61" height="79.20" fill="#800080"/>
<rect x="364.19" y="436.30" width="1.61" height="89.00" fill="#000000"/>
<rect x="365.75" y="436.50" width="1.61" height="88.80" fill="#ff0000"/>
<rect x="367.31" y="437.30" width="1.61" height="88.00" fill="#0000ff"/>
<rect x="368.88" y="437.70" width="1.61" height="87.60" fill="#ff00ff"/>
<rect x="370.44" y="438.80" width="1.61" height="86.50" fill="#008000"/>
<rect x="372.00" y="439.80" width="1.61" height="85.50" fill="#000080"/>
<rect x="373.56" y="440.50" width="1.61" height="84.80" fill="#8000ff"/>
<rect x="375.13" y="440.90" width="1.61" height="84.40" fill="#800080"/>
<line x1="221.50" y1="425.30" x2="221.50" y2="525.80" stroke="#000" stroke-width="1.1"/>
<line x1="221.00" y1="525.30" x2="378.50" y2="525.30" stroke="#000" stroke-width="1.1"/>
<line x1="218.30" y1="525.30" x2="221.50" y2="525.30" stroke="#000" stroke-width="1"/>
<text x="0" y="0" font-size="8.4" text-anchor="end"  transform="translate(216.10,527.52) scale(1.0,0.8)">0.00</text>
<line x1="218.30" y1="500.70" x2="221.50" y2="500.70" stroke="#000" stroke-width="1"/>
<text x="0" y="0" font-size="8.4" text-anchor="end"  transform="translate(216.10,502.92) scale(1.0,0.8)">0.02</text>
<line x1="218.30" y1="476.10" x2="221.50" y2="476.10" stroke="#000" stroke-width="1"/>
<text x="0" y="0" font-size="8.4" text-anchor="end"  transform="translate(216.10,478.32) scale(1.0,0.8)">0.04</text>
<line x1="218.30" y1="451.50" x2="221.50" y2="451.50" stroke="#000" stroke-width="1"/>
<text x="0" y="0" font-size="8.4" text-anchor="end"  transform="translate(216.10,453.72) scale(1.0,0.8)">0.06</text>
<line x1="218.30" y1="426.90" x2="221.50" y2="426.90" stroke="#000" stroke-width="1"/>
<text x="0" y="0" font-size="8.4" text-anchor="end"  transform="translate(216.10,429.12) scale(1.0,0.8)">0.08</text>
<line x1="219.70" y1="513.00" x2="221.50" y2="513.00" stroke="#000" stroke-width="1"/>
<line x1="219.70" y1="488.40" x2="221.50" y2="488.40" stroke="#000" stroke-width="1"/>
<line x1="219.70" y1="463.80" x2="221.50" y2="463.80" stroke="#000" stroke-width="1"/>
<line x1="219.70" y1="439.20" x2="221.50" y2="439.20" stroke="#000" stroke-width="1"/>
<line x1="229.50" y1="525.30" x2="229.50" y2="528.30" stroke="#000" stroke-width="1"/>
<line x1="237.33" y1="525.30" x2="237.33" y2="527.10" stroke="#000" stroke-width="1"/>
<text x="0" y="0" font-size="8.4" text-anchor="middle"  transform="translate(229.50,535.22) scale(1.0,0.8)">1</text>
<line x1="245.16" y1="525.30" x2="245.16" y2="528.30" stroke="#000" stroke-width="1"/>
<line x1="252.99" y1="525.30" x2="252.99" y2="527.10" stroke="#000" stroke-width="1"/>
<text x="0" y="0" font-size="8.4" text-anchor="middle"  transform="translate(245.16,535.22) scale(1.0,0.8)">2</text>
<line x1="260.82" y1="525.30" x2="260.82" y2="528.30" stroke="#000" stroke-width="1"/>
<line x1="268.65" y1="525.30" x2="268.65" y2="527.10" stroke="#000" stroke-width="1"/>
<text x="0" y="0" font-size="8.4" text-anchor="middle"  transform="translate(260.82,535.22) scale(1.0,0.8)">3</text>
<line x1="276.48" y1="525.30" x2="276.48" y2="528.30" stroke="#000" stroke-width="1"/>
<line x1="284.31" y1="525.30" x2="284.31" y2="527.10" stroke="#000" stroke-width="1"/>
<text x="0" y="0" font-size="8.4" text-anchor="middle"  transform="translate(276.48,535.22) scale(1.0,0.8)">4</text>
<line x1="292.14" y1="525.30" x2="292.14" y2="528.30" stroke="#000" stroke-width="1"/>
<line x1="299.97" y1="525.30" x2="299.97" y2="527.10" stroke="#000" stroke-width="1"/>
<text x="0" y="0" font-size="8.4" text-anchor="middle"  transform="translate(292.14,535.22) scale(1.0,0.8)">5</text>
<line x1="307.80" y1="525.30" x2="307.80" y2="528.30" stroke="#000" stroke-width="1"/>
<line x1="315.63" y1="525.30" x2="315.63" y2="527.10" stroke="#000" stroke-width="1"/>
<text x="0" y="0" font-size="8.4" text-anchor="middle"  transform="translate(307.80,535.22) scale(1.0,0.8)">6</text>
<line x1="323.46" y1="525.30" x2="323.46" y2="528.30" stroke="#000" stroke-width="1"/>
<line x1="331.29" y1="525.30" x2="331.29" y2="527.10" stroke="#000" stroke-width="1"/>
<text x="0" y="0" font-size="8.4" text-anchor="middle"  transform="translate(323.46,535.22) scale(1.0,0.8)">7</text>
<line x1="339.12" y1="525.30" x2="339.12" y2="528.30" stroke="#000" stroke-width="1"/>
<line x1="346.95" y1="525.30" x2="346.95" y2="527.10" stroke="#000" stroke-width="1"/>
<text x="0" y="0" font-size="8.4" text-anchor="middle"  transform="translate(339.12,535.22) scale(1.0,0.8)">8</text>
<line x1="354.78" y1="525.30" x2="354.78" y2="528.30" stroke="#000" stroke-width="1"/>
<line x1="362.61" y1="525.30" x2="362.61" y2="527.10" stroke="#000" stroke-width="1"/>
<text x="0" y="0" font-size="8.4" text-anchor="middle"  transform="translate(354.78,535.22) scale(1.0,0.8)">9</text>
<line x1="370.44" y1="525.30" x2="370.44" y2="528.30" stroke="#000" stroke-width="1"/>
<line x1="378.27" y1="525.30" x2="378.27" y2="527.10" stroke="#000" stroke-width="1"/>
<text x="0" y="0" font-size="8.4" text-anchor="middle"  transform="translate(370.44,535.22) scale(1.0,0.8)">10</text>
<text x="0" y="0" font-size="8.75" text-anchor="middle" transform="translate(298.60,547.25) scale(1,1.04)">Sequence number of the profiles</text>
<text x="0" y="0" font-size="9" text-anchor="middle" font-style="italic" transform="translate(199.50,481.70) rotate(-90) scale(0.85,1)">λ</text>
<rect x="222.60" y="427.80" width="11.8" height="4.20" fill="#000000"/>
<text x="0" y="0" font-size="7.2" text-anchor="start"  transform="translate(236.00,431.99) scale(1.0,0.88)">0.1 mm</text>
<rect x="258.30" y="427.80" width="11.8" height="4.20" fill="#ff0000"/>
<text x="0" y="0" font-size="7.2" text-anchor="start"  transform="translate(271.70,431.99) scale(1.0,0.88)">0.5 mm</text>
<rect x="294.00" y="427.80" width="11.8" height="4.20" fill="#0000ff"/>
<text x="0" y="0" font-size="7.2" text-anchor="start"  transform="translate(307.40,431.99) scale(1.0,0.88)">1.0 mm</text>
<rect x="329.70" y="427.80" width="11.8" height="4.20" fill="#ff00ff"/>
<text x="0" y="0" font-size="7.2" text-anchor="start"  transform="translate(343.10,431.99) scale(1.0,0.88)">1.5 mm</text>
<rect x="222.60" y="435.80" width="11.8" height="4.60" fill="#008000"/>
<text x="0" y="0" font-size="7.2" text-anchor="start"  transform="translate(236.00,440.19) scale(1.0,0.88)">2.0 mm</text>
<rect x="258.30" y="435.80" width="11.8" height="4.60" fill="#000080"/>
<text x="0" y="0" font-size="7.2" text-anchor="start"  transform="translate(271.70,440.19) scale(1.0,0.88)">3.0 mm</text>
<rect x="294.00" y="435.80" width="11.8" height="4.60" fill="#8000ff"/>
<text x="0" y="0" font-size="7.2" text-anchor="start"  transform="translate(307.40,440.19) scale(1.0,0.88)">4.0 mm</text>
<rect x="329.70" y="435.80" width="11.8" height="4.60" fill="#800080"/>
<text x="0" y="0" font-size="7.2" text-anchor="start"  transform="translate(343.10,440.19) scale(1.0,0.88)">5.0 mm</text>
</svg></body></html>
